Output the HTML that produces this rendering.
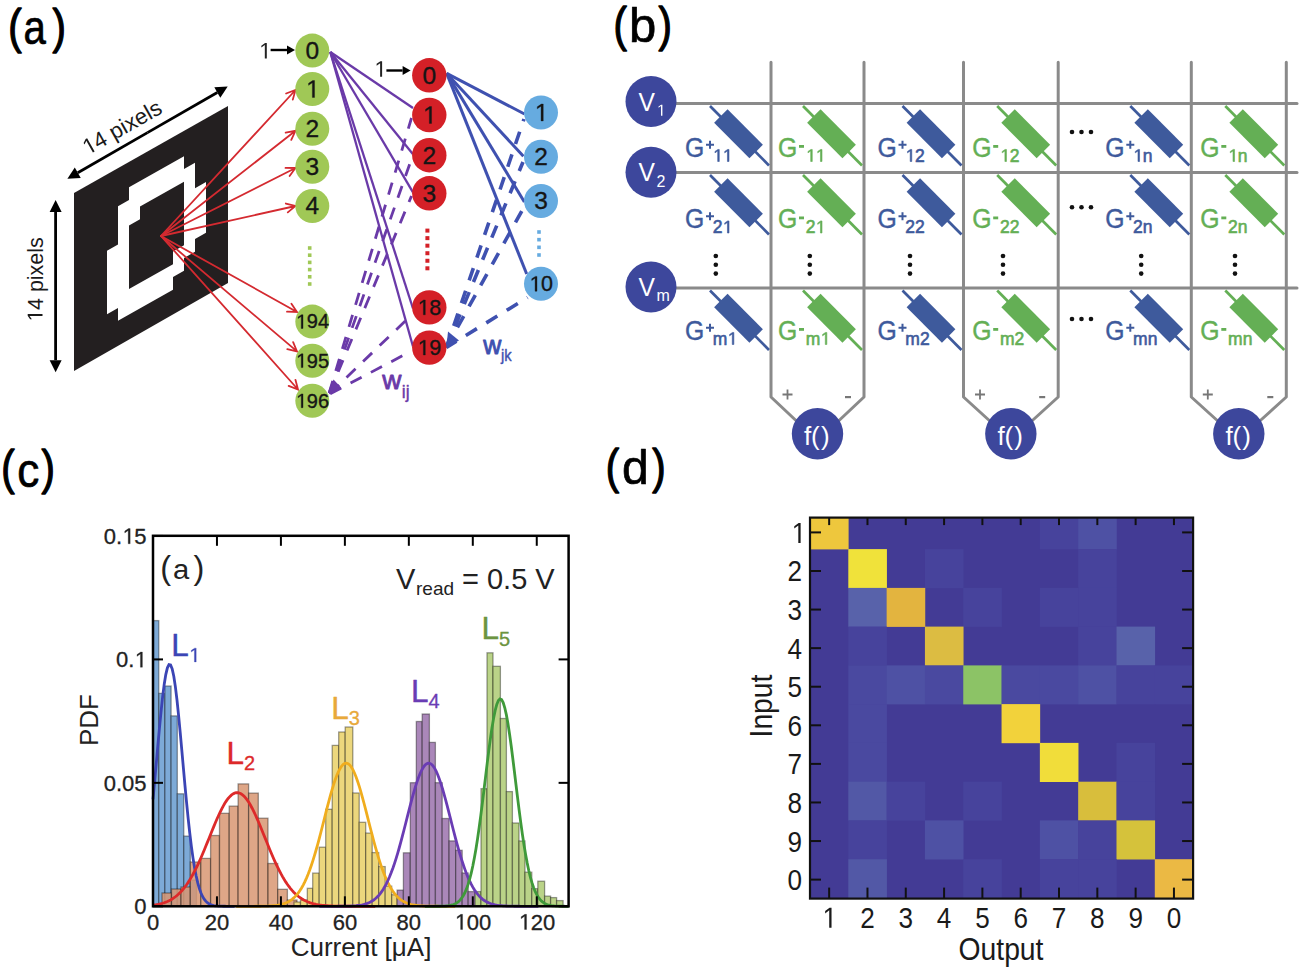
<!DOCTYPE html>
<html><head><meta charset="utf-8"><style>html,body{margin:0;padding:0;background:#fff;overflow:hidden;}svg{display:block;}</style></head>
<body><svg width="1300" height="971" viewBox="0 0 1300 971">
<rect width="1300" height="971" fill="#fff"/>
<g transform="translate(8.34,42.51) scale(0.82,1)"><text x="0.00" y="0" font-size="49" font-family="Liberation Sans, sans-serif" fill="#000" stroke="#000" stroke-width="1.3" stroke-linejoin="round" style="font-kerning:none;white-space:pre">(</text></g>
<g transform="translate(23.42,44.00) scale(0.82,1)"><text x="0.00" y="0" font-size="49" font-family="Liberation Sans, sans-serif" fill="#000" stroke="#000" stroke-width="0.7" stroke-linejoin="round" style="font-kerning:none;white-space:pre">a</text></g>
<g transform="translate(52.51,42.51) scale(0.82,1)"><text x="0.00" y="0" font-size="49" font-family="Liberation Sans, sans-serif" fill="#000" stroke="#000" stroke-width="1.3" stroke-linejoin="round" style="font-kerning:none;white-space:pre">)</text></g>
<g transform="translate(613.44,40.71) scale(0.82,1)"><text x="0.00" y="0" font-size="49" font-family="Liberation Sans, sans-serif" fill="#000" stroke="#000" stroke-width="1.3" stroke-linejoin="round" style="font-kerning:none;white-space:pre">(</text></g>
<g transform="translate(629.08,42.40)"><text x="0.00" y="0" font-size="49" font-family="Liberation Sans, sans-serif" fill="#000" stroke="#000" stroke-width="0.7" stroke-linejoin="round" style="font-kerning:none;white-space:pre">b</text></g>
<g transform="translate(658.51,40.71) scale(0.82,1)"><text x="0.00" y="0" font-size="49" font-family="Liberation Sans, sans-serif" fill="#000" stroke="#000" stroke-width="1.3" stroke-linejoin="round" style="font-kerning:none;white-space:pre">)</text></g>
<g transform="translate(1.34,484.41) scale(0.82,1)"><text x="0.00" y="0" font-size="49" font-family="Liberation Sans, sans-serif" fill="#000" stroke="#000" stroke-width="1.3" stroke-linejoin="round" style="font-kerning:none;white-space:pre">(</text></g>
<g transform="translate(17.27,486.50) scale(0.9,1)"><text x="0.00" y="0" font-size="49" font-family="Liberation Sans, sans-serif" fill="#000" stroke="#000" stroke-width="0.7" stroke-linejoin="round" style="font-kerning:none;white-space:pre">c</text></g>
<g transform="translate(41.41,484.41) scale(0.82,1)"><text x="0.00" y="0" font-size="49" font-family="Liberation Sans, sans-serif" fill="#000" stroke="#000" stroke-width="1.3" stroke-linejoin="round" style="font-kerning:none;white-space:pre">)</text></g>
<g transform="translate(605.64,483.01) scale(0.82,1)"><text x="0.00" y="0" font-size="49" font-family="Liberation Sans, sans-serif" fill="#000" stroke="#000" stroke-width="1.3" stroke-linejoin="round" style="font-kerning:none;white-space:pre">(</text></g>
<g transform="translate(621.92,484.30) scale(0.98,1)"><text x="0.00" y="0" font-size="49" font-family="Liberation Sans, sans-serif" fill="#000" stroke="#000" stroke-width="0.7" stroke-linejoin="round" style="font-kerning:none;white-space:pre">d</text></g>
<g transform="translate(652.21,483.01) scale(0.82,1)"><text x="0.00" y="0" font-size="49" font-family="Liberation Sans, sans-serif" fill="#000" stroke="#000" stroke-width="1.3" stroke-linejoin="round" style="font-kerning:none;white-space:pre">)</text></g>
<polygon points="74,193 228,106 228,283 74,371" fill="#231f20"/>
<path d="M107.00,250.64 L118.00,244.43 L118.00,206.29 L129.00,200.07 L129.00,187.36 L184.00,156.29 L184.00,169.00 L195.00,162.79 L195.00,188.22 L206.00,182.00 L206.00,232.86 L195.00,239.07 L195.00,251.79 L184.00,258.00 L184.00,270.71 L173.00,276.93 L173.00,289.64 L118.00,320.71 L118.00,308.00 L107.00,314.21Z M140.00,206.57 L184.00,181.72 L184.00,245.29 L173.00,251.50 L173.00,264.21 L129.00,289.07 L129.00,225.50 L140.00,219.29Z" fill="#fff" fill-rule="evenodd"/>
<line x1="147.5" y1="132.6" x2="217.30" y2="92.48" stroke="#000" stroke-width="2.8"/><polygon points="227.7,86.5 220.29,97.68 214.31,87.28" fill="#000"/>
<line x1="147.5" y1="132.6" x2="77.79" y2="172.80" stroke="#000" stroke-width="2.8"/><polygon points="67.4,178.8 74.80,167.61 80.79,178.00" fill="#000"/>
<line x1="55.6" y1="290" x2="55.60" y2="212.00" stroke="#000" stroke-width="2.8"/><polygon points="55.6,200 61.60,212.00 49.60,212.00" fill="#000"/>
<line x1="55.6" y1="290" x2="55.60" y2="360.20" stroke="#000" stroke-width="2.8"/><polygon points="55.6,372.2 49.60,360.20 61.60,360.20" fill="#000"/>
<g transform="translate(87.50,155.50) rotate(-29.5)"><path d="M575,0 L575,1237 L257,1010 L257,1180 L600,1409 L756,1409 L756,0 Z" transform="translate(0.00,0) scale(0.01084,-0.01084)" fill="#1a1a1a"/><text x="12.35" y="0" font-size="22.2" font-family="Liberation Sans, sans-serif" fill="#1a1a1a" style="font-kerning:none;white-space:pre">4 pixels</text></g>
<g transform="translate(42.50,322.00) rotate(-90)"><path d="M575,0 L575,1237 L257,1010 L257,1180 L600,1409 L756,1409 L756,0 Z" transform="translate(0.00,0) scale(0.01050,-0.01050)" fill="#1a1a1a"/><text x="11.96" y="0" font-size="21.5" font-family="Liberation Sans, sans-serif" fill="#1a1a1a" style="font-kerning:none;white-space:pre">4 pixels</text></g>
<path d="M161,236 L295.5,90 M286.12,93.48 L295.5,90 L292.80,99.63" fill="none" stroke="#d42a30" stroke-width="1.8" stroke-linecap="round" stroke-linejoin="miter"/>
<path d="M161,236 L295.5,130.8 M285.68,132.71 L295.5,130.8 L291.28,139.87" fill="none" stroke="#d42a30" stroke-width="1.8" stroke-linecap="round" stroke-linejoin="miter"/>
<path d="M161,236 L295.5,168 M285.50,167.97 L295.5,168 L289.60,176.07" fill="none" stroke="#d42a30" stroke-width="1.8" stroke-linecap="round" stroke-linejoin="miter"/>
<path d="M161,236 L295.5,206 M285.82,203.51 L295.5,206 L287.79,212.37" fill="none" stroke="#d42a30" stroke-width="1.8" stroke-linecap="round" stroke-linejoin="miter"/>
<path d="M161,236 L297,312 M291.44,303.69 L297,312 L287.01,311.62" fill="none" stroke="#d42a30" stroke-width="1.8" stroke-linecap="round" stroke-linejoin="miter"/>
<path d="M161,236 L297,351.4 M293.14,342.17 L297,351.4 L287.27,349.10" fill="none" stroke="#d42a30" stroke-width="1.8" stroke-linecap="round" stroke-linejoin="miter"/>
<path d="M161,236 L298,389.5 M295.45,379.83 L298,389.5 L288.68,385.88" fill="none" stroke="#d42a30" stroke-width="1.8" stroke-linecap="round" stroke-linejoin="miter"/>
<line x1="330.3" y1="52" x2="413" y2="108" stroke="#6a3aa8" stroke-width="2.3"/>
<line x1="330.3" y1="52" x2="413" y2="154.2" stroke="#6a3aa8" stroke-width="2.3"/>
<line x1="330.3" y1="52" x2="413" y2="192.3" stroke="#6a3aa8" stroke-width="2.3"/>
<line x1="330.3" y1="52" x2="413" y2="308.5" stroke="#6a3aa8" stroke-width="2.3"/>
<line x1="330.3" y1="52" x2="413" y2="346.5" stroke="#6a3aa8" stroke-width="2.3"/>
<line x1="328.7" y1="394.6" x2="411.5" y2="118" stroke="#6a3aa8" stroke-width="2.8" stroke-dasharray="12.5 10.5" stroke-dashoffset="-1.7"/>
<line x1="328.7" y1="394.6" x2="411.5" y2="159" stroke="#6a3aa8" stroke-width="2.8" stroke-dasharray="12.5 10.5" stroke-dashoffset="-1.7"/>
<line x1="328.7" y1="394.6" x2="411.5" y2="196" stroke="#6a3aa8" stroke-width="2.8" stroke-dasharray="12.5 10.5" stroke-dashoffset="-1.7"/>
<line x1="328.7" y1="394.6" x2="411.5" y2="315" stroke="#6a3aa8" stroke-width="2.8" stroke-dasharray="12.5 10.5" stroke-dashoffset="-1.7"/>
<line x1="328.7" y1="394.6" x2="411.5" y2="351" stroke="#6a3aa8" stroke-width="2.8" stroke-dasharray="12.5 10.5" stroke-dashoffset="-1.7"/>
<polygon points="328.7,394.6 333.5,379.5 341,387.5" fill="#6a3aa8"/>
<line x1="446.7" y1="73.4" x2="524.5" y2="114" stroke="#3f51b0" stroke-width="3"/>
<line x1="446.7" y1="73.4" x2="523.4" y2="156.3" stroke="#3f51b0" stroke-width="3"/>
<line x1="446.7" y1="73.4" x2="524.4" y2="202" stroke="#3f51b0" stroke-width="3"/>
<line x1="446.7" y1="73.4" x2="526.7" y2="274" stroke="#3f51b0" stroke-width="3"/>
<line x1="446.4" y1="347.4" x2="524" y2="119" stroke="#3f51b0" stroke-width="3.6" stroke-dasharray="13 11" stroke-dashoffset="1.2"/>
<line x1="446.4" y1="347.4" x2="523" y2="162" stroke="#3f51b0" stroke-width="3.6" stroke-dasharray="13 11" stroke-dashoffset="1.2"/>
<line x1="446.4" y1="347.4" x2="524" y2="207" stroke="#3f51b0" stroke-width="3.6" stroke-dasharray="13 11" stroke-dashoffset="1.2"/>
<line x1="446.4" y1="347.4" x2="527.6" y2="297.5" stroke="#3f51b0" stroke-width="3.6" stroke-dasharray="13 11" stroke-dashoffset="1.2"/>
<polygon points="446.4,347.4 448,331.5 459,340.5" fill="#3f51b0"/>
<line x1="270.6" y1="50" x2="287.00" y2="50.00" stroke="#000" stroke-width="2.4"/><polygon points="295,50 287.00,54.50 287.00,45.50" fill="#000"/>
<g transform="translate(258.50,58.60)"><path d="M575,0 L575,1237 L257,1010 L257,1180 L600,1409 L756,1409 L756,0 Z" transform="translate(0.00,0) scale(0.01099,-0.01099)" fill="#222"/></g>
<line x1="386.4" y1="70.5" x2="402.60" y2="70.50" stroke="#000" stroke-width="2.4"/><polygon points="410.6,70.5 402.60,75.00 402.60,66.00" fill="#000"/>
<g transform="translate(373.80,76.80)"><path d="M575,0 L575,1237 L257,1010 L257,1180 L600,1409 L756,1409 L756,0 Z" transform="translate(0.00,0) scale(0.01099,-0.01099)" fill="#222"/></g>
<circle cx="312.3" cy="50.6" r="17" fill="#a0c856"/><g transform="translate(312.30,59.03)"><text x="-6.81" y="0" font-size="24.5" font-family="Liberation Sans, sans-serif" fill="#151515" stroke="#151515" stroke-width="0.35" stroke-linejoin="round" style="font-kerning:none;white-space:pre">0</text></g>
<circle cx="312.3" cy="89" r="17" fill="#a0c856"/><g transform="translate(312.30,97.43)"><path d="M575,0 L575,1237 L257,1010 L257,1180 L600,1409 L756,1409 L756,0 Z" transform="translate(-6.81,0) scale(0.01196,-0.01196)" fill="#151515" stroke="#151515" stroke-width="29.3" stroke-linejoin="round"/></g>
<circle cx="312.3" cy="128.8" r="17" fill="#a0c856"/><g transform="translate(312.30,137.23)"><text x="-6.81" y="0" font-size="24.5" font-family="Liberation Sans, sans-serif" fill="#151515" stroke="#151515" stroke-width="0.35" stroke-linejoin="round" style="font-kerning:none;white-space:pre">2</text></g>
<circle cx="312.3" cy="166.8" r="17" fill="#a0c856"/><g transform="translate(312.30,175.23)"><text x="-6.81" y="0" font-size="24.5" font-family="Liberation Sans, sans-serif" fill="#151515" stroke="#151515" stroke-width="0.35" stroke-linejoin="round" style="font-kerning:none;white-space:pre">3</text></g>
<circle cx="312.3" cy="206" r="17" fill="#a0c856"/><g transform="translate(312.30,214.43)"><text x="-6.81" y="0" font-size="24.5" font-family="Liberation Sans, sans-serif" fill="#151515" stroke="#151515" stroke-width="0.35" stroke-linejoin="round" style="font-kerning:none;white-space:pre">4</text></g>
<circle cx="312.3" cy="321.6" r="17" fill="#a0c856"/><g transform="translate(312.30,328.48)"><path d="M575,0 L575,1237 L257,1010 L257,1180 L600,1409 L756,1409 L756,0 Z" transform="translate(-16.68,0) scale(0.00977,-0.00977)" fill="#151515" stroke="#151515" stroke-width="35.8" stroke-linejoin="round"/><text x="-5.56" y="0" font-size="20" font-family="Liberation Sans, sans-serif" fill="#151515" stroke="#151515" stroke-width="0.35" stroke-linejoin="round" style="font-kerning:none;white-space:pre">94</text></g>
<circle cx="312.3" cy="360.7" r="17" fill="#a0c856"/><g transform="translate(312.30,367.58)"><path d="M575,0 L575,1237 L257,1010 L257,1180 L600,1409 L756,1409 L756,0 Z" transform="translate(-16.68,0) scale(0.00977,-0.00977)" fill="#151515" stroke="#151515" stroke-width="35.8" stroke-linejoin="round"/><text x="-5.56" y="0" font-size="20" font-family="Liberation Sans, sans-serif" fill="#151515" stroke="#151515" stroke-width="0.35" stroke-linejoin="round" style="font-kerning:none;white-space:pre">95</text></g>
<circle cx="312.3" cy="400.8" r="17" fill="#a0c856"/><g transform="translate(312.30,407.68)"><path d="M575,0 L575,1237 L257,1010 L257,1180 L600,1409 L756,1409 L756,0 Z" transform="translate(-16.68,0) scale(0.00977,-0.00977)" fill="#151515" stroke="#151515" stroke-width="35.8" stroke-linejoin="round"/><text x="-5.56" y="0" font-size="20" font-family="Liberation Sans, sans-serif" fill="#151515" stroke="#151515" stroke-width="0.35" stroke-linejoin="round" style="font-kerning:none;white-space:pre">96</text></g>
<circle cx="429.3" cy="75.3" r="17.2" fill="#d42027"/><g transform="translate(429.30,83.73)"><text x="-6.81" y="0" font-size="24.5" font-family="Liberation Sans, sans-serif" fill="#151515" stroke="#151515" stroke-width="0.35" stroke-linejoin="round" style="font-kerning:none;white-space:pre">0</text></g>
<circle cx="429.3" cy="115" r="17.2" fill="#d42027"/><g transform="translate(429.30,123.43)"><path d="M575,0 L575,1237 L257,1010 L257,1180 L600,1409 L756,1409 L756,0 Z" transform="translate(-6.81,0) scale(0.01196,-0.01196)" fill="#151515" stroke="#151515" stroke-width="29.3" stroke-linejoin="round"/></g>
<circle cx="429.3" cy="155.2" r="17.2" fill="#d42027"/><g transform="translate(429.30,163.63)"><text x="-6.81" y="0" font-size="24.5" font-family="Liberation Sans, sans-serif" fill="#151515" stroke="#151515" stroke-width="0.35" stroke-linejoin="round" style="font-kerning:none;white-space:pre">2</text></g>
<circle cx="429.3" cy="193.3" r="17.2" fill="#d42027"/><g transform="translate(429.30,201.73)"><text x="-6.81" y="0" font-size="24.5" font-family="Liberation Sans, sans-serif" fill="#151515" stroke="#151515" stroke-width="0.35" stroke-linejoin="round" style="font-kerning:none;white-space:pre">3</text></g>
<circle cx="429.3" cy="307.4" r="17.2" fill="#d42027"/><g transform="translate(429.30,314.80)"><path d="M575,0 L575,1237 L257,1010 L257,1180 L600,1409 L756,1409 L756,0 Z" transform="translate(-11.96,0) scale(0.01050,-0.01050)" fill="#151515" stroke="#151515" stroke-width="33.3" stroke-linejoin="round"/><text x="0.00" y="0" font-size="21.5" font-family="Liberation Sans, sans-serif" fill="#151515" stroke="#151515" stroke-width="0.35" stroke-linejoin="round" style="font-kerning:none;white-space:pre">8</text></g>
<circle cx="429.3" cy="347.6" r="17.2" fill="#d42027"/><g transform="translate(429.30,355.00)"><path d="M575,0 L575,1237 L257,1010 L257,1180 L600,1409 L756,1409 L756,0 Z" transform="translate(-11.96,0) scale(0.01050,-0.01050)" fill="#151515" stroke="#151515" stroke-width="33.3" stroke-linejoin="round"/><text x="0.00" y="0" font-size="21.5" font-family="Liberation Sans, sans-serif" fill="#151515" stroke="#151515" stroke-width="0.35" stroke-linejoin="round" style="font-kerning:none;white-space:pre">9</text></g>
<circle cx="541" cy="112.5" r="17" fill="#66abe0"/><g transform="translate(541.00,120.93)"><path d="M575,0 L575,1237 L257,1010 L257,1180 L600,1409 L756,1409 L756,0 Z" transform="translate(-6.81,0) scale(0.01196,-0.01196)" fill="#151515" stroke="#151515" stroke-width="29.3" stroke-linejoin="round"/></g>
<circle cx="541" cy="156.8" r="17" fill="#66abe0"/><g transform="translate(541.00,165.23)"><text x="-6.81" y="0" font-size="24.5" font-family="Liberation Sans, sans-serif" fill="#151515" stroke="#151515" stroke-width="0.35" stroke-linejoin="round" style="font-kerning:none;white-space:pre">2</text></g>
<circle cx="541" cy="201" r="17" fill="#66abe0"/><g transform="translate(541.00,209.43)"><text x="-6.81" y="0" font-size="24.5" font-family="Liberation Sans, sans-serif" fill="#151515" stroke="#151515" stroke-width="0.35" stroke-linejoin="round" style="font-kerning:none;white-space:pre">3</text></g>
<circle cx="541" cy="283.8" r="17" fill="#66abe0"/><g transform="translate(541.00,291.20)"><path d="M575,0 L575,1237 L257,1010 L257,1180 L600,1409 L756,1409 L756,0 Z" transform="translate(-11.96,0) scale(0.01050,-0.01050)" fill="#151515" stroke="#151515" stroke-width="33.3" stroke-linejoin="round"/><text x="0.00" y="0" font-size="21.5" font-family="Liberation Sans, sans-serif" fill="#151515" stroke="#151515" stroke-width="0.35" stroke-linejoin="round" style="font-kerning:none;white-space:pre">0</text></g>
<rect x="307.9" y="246.2" width="3.6" height="3.6" fill="#a0c856"/><rect x="307.9" y="253.39999999999998" width="3.6" height="3.6" fill="#a0c856"/><rect x="307.9" y="260.59999999999997" width="3.6" height="3.6" fill="#a0c856"/><rect x="307.9" y="267.8" width="3.6" height="3.6" fill="#a0c856"/><rect x="307.9" y="275.0" width="3.6" height="3.6" fill="#a0c856"/><rect x="307.9" y="282.2" width="3.6" height="3.6" fill="#a0c856"/>
<rect x="425.4" y="228.6" width="4" height="4" fill="#d42027"/><rect x="425.4" y="236.14" width="4" height="4" fill="#d42027"/><rect x="425.4" y="243.68" width="4" height="4" fill="#d42027"/><rect x="425.4" y="251.22" width="4" height="4" fill="#d42027"/><rect x="425.4" y="258.76" width="4" height="4" fill="#d42027"/><rect x="425.4" y="266.3" width="4" height="4" fill="#d42027"/>
<rect x="537.2" y="230.2" width="3.6" height="3.6" fill="#66abe0"/><rect x="537.2" y="237.86666666666665" width="3.6" height="3.6" fill="#66abe0"/><rect x="537.2" y="245.53333333333333" width="3.6" height="3.6" fill="#66abe0"/><rect x="537.2" y="253.2" width="3.6" height="3.6" fill="#66abe0"/>
<g transform="translate(382.30,388.50)"><text x="0.00" y="0" font-size="26.5" font-family="Liberation Sans, sans-serif" fill="#6a3aa8" stroke="#6a3aa8" stroke-width="0.9" stroke-linejoin="round" style="font-kerning:none;white-space:pre">w</text></g>
<g transform="translate(401.80,397.50)"><text x="0.00" y="0" font-size="17.5" font-family="Liberation Sans, sans-serif" fill="#6a3aa8" stroke="#6a3aa8" stroke-width="0.4" stroke-linejoin="round" style="font-kerning:none;white-space:pre">ij</text></g>
<g transform="translate(483.30,353.60)"><text x="0.00" y="0" font-size="25" font-family="Liberation Sans, sans-serif" fill="#3f51b0" stroke="#3f51b0" stroke-width="0.9" stroke-linejoin="round" style="font-kerning:none;white-space:pre">w</text></g>
<g transform="translate(501.00,360.50) scale(0.92,1)"><text x="0.00" y="0" font-size="16" font-family="Liberation Sans, sans-serif" fill="#3f51b0" stroke="#3f51b0" stroke-width="0.4" stroke-linejoin="round" style="font-kerning:none;white-space:pre">jk</text></g>
<g stroke="#8a8a8a" stroke-width="3" fill="none" stroke-linecap="round" stroke-linejoin="round">
<line x1="676" y1="103.5" x2="1297" y2="103.5"/>
<line x1="676" y1="172.5" x2="1297" y2="172.5"/>
<line x1="676" y1="288" x2="1297" y2="288"/>
<path d="M771,62.3 L771,397 L796.5,421 M864,62.3 L864,397 L838.5,421"/>
<path d="M963.5,62.3 L963.5,397 L989.85,421 M1058.2,62.3 L1058.2,397 L1031.85,421"/>
<path d="M1191.3,62.3 L1191.3,397 L1217.8,421 M1286.3,62.3 L1286.3,397 L1259.8,421"/>
</g>
<circle cx="651" cy="101.5" r="25.5" fill="#3d479c"/>
<g transform="translate(638.50,110.50) scale(0.93,1)"><text x="0.00" y="0" font-size="26.5" font-family="Liberation Sans, sans-serif" fill="#fff" style="font-kerning:none;white-space:pre">V</text></g>
<g transform="translate(656.50,115.70)"><path d="M575,0 L575,1237 L257,1010 L257,1180 L600,1409 L756,1409 L756,0 Z" transform="translate(0.00,0) scale(0.00781,-0.00781)" fill="#fff"/></g>
<circle cx="651" cy="172.3" r="25.5" fill="#3d479c"/>
<g transform="translate(638.50,181.30) scale(0.93,1)"><text x="0.00" y="0" font-size="26.5" font-family="Liberation Sans, sans-serif" fill="#fff" style="font-kerning:none;white-space:pre">V</text></g>
<g transform="translate(656.50,186.50)"><text x="0.00" y="0" font-size="16" font-family="Liberation Sans, sans-serif" fill="#fff" style="font-kerning:none;white-space:pre">2</text></g>
<circle cx="651" cy="287" r="25.5" fill="#3d479c"/>
<g transform="translate(638.50,296.00) scale(0.93,1)"><text x="0.00" y="0" font-size="26.5" font-family="Liberation Sans, sans-serif" fill="#fff" style="font-kerning:none;white-space:pre">V</text></g>
<g transform="translate(656.50,301.20)"><text x="0.00" y="0" font-size="16" font-family="Liberation Sans, sans-serif" fill="#fff" style="font-kerning:none;white-space:pre">m</text></g>
<circle cx="817.5" cy="433.8" r="25.7" fill="#3d479c"/>
<g transform="translate(804.10,445.30)"><text x="0.00" y="0" font-size="26" font-family="Liberation Sans, sans-serif" fill="#fff" style="font-kerning:none;white-space:pre">f</text></g>
<g transform="translate(811.10,445.30)"><text x="0.00" y="0" font-size="26" font-family="Liberation Sans, sans-serif" fill="#fff" style="font-kerning:none;white-space:pre">(</text></g>
<g transform="translate(820.90,445.30)"><text x="0.00" y="0" font-size="26" font-family="Liberation Sans, sans-serif" fill="#fff" style="font-kerning:none;white-space:pre">)</text></g>
<path d="M782.5,394.5 h10 M787.5,389.5 v10" stroke="#777" stroke-width="1.8"/>
<rect x="845" y="396" width="6" height="2.2" fill="#777"/>
<circle cx="1010.85" cy="433.8" r="25.7" fill="#3d479c"/>
<g transform="translate(997.45,445.30)"><text x="0.00" y="0" font-size="26" font-family="Liberation Sans, sans-serif" fill="#fff" style="font-kerning:none;white-space:pre">f</text></g>
<g transform="translate(1004.45,445.30)"><text x="0.00" y="0" font-size="26" font-family="Liberation Sans, sans-serif" fill="#fff" style="font-kerning:none;white-space:pre">(</text></g>
<g transform="translate(1014.25,445.30)"><text x="0.00" y="0" font-size="26" font-family="Liberation Sans, sans-serif" fill="#fff" style="font-kerning:none;white-space:pre">)</text></g>
<path d="M975.0,394.5 h10 M980.0,389.5 v10" stroke="#777" stroke-width="1.8"/>
<rect x="1039.2" y="396" width="6" height="2.2" fill="#777"/>
<circle cx="1238.8" cy="433.8" r="25.7" fill="#3d479c"/>
<g transform="translate(1225.40,445.30)"><text x="0.00" y="0" font-size="26" font-family="Liberation Sans, sans-serif" fill="#fff" style="font-kerning:none;white-space:pre">f</text></g>
<g transform="translate(1232.40,445.30)"><text x="0.00" y="0" font-size="26" font-family="Liberation Sans, sans-serif" fill="#fff" style="font-kerning:none;white-space:pre">(</text></g>
<g transform="translate(1242.20,445.30)"><text x="0.00" y="0" font-size="26" font-family="Liberation Sans, sans-serif" fill="#fff" style="font-kerning:none;white-space:pre">)</text></g>
<path d="M1202.8,394.5 h10 M1207.8,389.5 v10" stroke="#777" stroke-width="1.8"/>
<rect x="1267.3" y="396" width="6" height="2.2" fill="#777"/>
<line x1="710" y1="106.0" x2="769" y2="165.5" stroke="#3e5a9c" stroke-width="2.7"/><rect x="713.5" y="124.25" width="50" height="19" fill="#3e5a9c" transform="rotate(45 738.5 133.75)"/>
<g transform="translate(685.00,156.70) scale(0.9,1)"><text x="0.00" y="0" font-size="27.5" font-family="Liberation Sans, sans-serif" fill="#3e5a9c" stroke="#3e5a9c" stroke-width="0.4" stroke-linejoin="round" style="font-kerning:none;white-space:pre">G</text></g>
<path d="M706.0,144.7 h8 M710.0,140.7 v8" stroke="#3e5a9c" stroke-width="2"/>
<g transform="translate(712.80,161.50)"><path d="M575,0 L575,1237 L257,1010 L257,1180 L600,1409 L756,1409 L756,0 Z" transform="translate(0.00,0) scale(0.00854,-0.00854)" fill="#3e5a9c" stroke="#3e5a9c" stroke-width="70.2" stroke-linejoin="round"/><path d="M575,0 L575,1237 L257,1010 L257,1180 L600,1409 L756,1409 L756,0 Z" transform="translate(9.73,0) scale(0.00854,-0.00854)" fill="#3e5a9c" stroke="#3e5a9c" stroke-width="70.2" stroke-linejoin="round"/></g>
<line x1="803" y1="106.0" x2="862" y2="165.5" stroke="#64af55" stroke-width="2.7"/><rect x="806.5" y="124.25" width="50" height="19" fill="#64af55" transform="rotate(45 831.5 133.75)"/>
<g transform="translate(778.00,156.70) scale(0.9,1)"><text x="0.00" y="0" font-size="27.5" font-family="Liberation Sans, sans-serif" fill="#64af55" stroke="#64af55" stroke-width="0.4" stroke-linejoin="round" style="font-kerning:none;white-space:pre">G</text></g>
<rect x="799.0" y="145.0" width="5" height="2.8" fill="#64af55"/>
<g transform="translate(805.80,161.50)"><path d="M575,0 L575,1237 L257,1010 L257,1180 L600,1409 L756,1409 L756,0 Z" transform="translate(0.00,0) scale(0.00854,-0.00854)" fill="#64af55" stroke="#64af55" stroke-width="70.2" stroke-linejoin="round"/><path d="M575,0 L575,1237 L257,1010 L257,1180 L600,1409 L756,1409 L756,0 Z" transform="translate(9.73,0) scale(0.00854,-0.00854)" fill="#64af55" stroke="#64af55" stroke-width="70.2" stroke-linejoin="round"/></g>
<line x1="902.5" y1="106.0" x2="961.5" y2="165.5" stroke="#3e5a9c" stroke-width="2.7"/><rect x="906.0" y="124.25" width="50" height="19" fill="#3e5a9c" transform="rotate(45 931.0 133.75)"/>
<g transform="translate(877.50,156.70) scale(0.9,1)"><text x="0.00" y="0" font-size="27.5" font-family="Liberation Sans, sans-serif" fill="#3e5a9c" stroke="#3e5a9c" stroke-width="0.4" stroke-linejoin="round" style="font-kerning:none;white-space:pre">G</text></g>
<path d="M898.5,144.7 h8 M902.5,140.7 v8" stroke="#3e5a9c" stroke-width="2"/>
<g transform="translate(905.30,161.50)"><path d="M575,0 L575,1237 L257,1010 L257,1180 L600,1409 L756,1409 L756,0 Z" transform="translate(0.00,0) scale(0.00854,-0.00854)" fill="#3e5a9c" stroke="#3e5a9c" stroke-width="70.2" stroke-linejoin="round"/><text x="9.73" y="0" font-size="17.5" font-family="Liberation Sans, sans-serif" fill="#3e5a9c" stroke="#3e5a9c" stroke-width="0.6" stroke-linejoin="round" style="font-kerning:none;white-space:pre">2</text></g>
<line x1="997.2" y1="106.0" x2="1056.2" y2="165.5" stroke="#64af55" stroke-width="2.7"/><rect x="1000.7" y="124.25" width="50" height="19" fill="#64af55" transform="rotate(45 1025.7 133.75)"/>
<g transform="translate(972.20,156.70) scale(0.9,1)"><text x="0.00" y="0" font-size="27.5" font-family="Liberation Sans, sans-serif" fill="#64af55" stroke="#64af55" stroke-width="0.4" stroke-linejoin="round" style="font-kerning:none;white-space:pre">G</text></g>
<rect x="993.2" y="145.0" width="5" height="2.8" fill="#64af55"/>
<g transform="translate(1000.00,161.50)"><path d="M575,0 L575,1237 L257,1010 L257,1180 L600,1409 L756,1409 L756,0 Z" transform="translate(0.00,0) scale(0.00854,-0.00854)" fill="#64af55" stroke="#64af55" stroke-width="70.2" stroke-linejoin="round"/><text x="9.73" y="0" font-size="17.5" font-family="Liberation Sans, sans-serif" fill="#64af55" stroke="#64af55" stroke-width="0.6" stroke-linejoin="round" style="font-kerning:none;white-space:pre">2</text></g>
<line x1="1130.3" y1="106.0" x2="1189.3" y2="165.5" stroke="#3e5a9c" stroke-width="2.7"/><rect x="1133.8" y="124.25" width="50" height="19" fill="#3e5a9c" transform="rotate(45 1158.8 133.75)"/>
<g transform="translate(1105.30,156.70) scale(0.9,1)"><text x="0.00" y="0" font-size="27.5" font-family="Liberation Sans, sans-serif" fill="#3e5a9c" stroke="#3e5a9c" stroke-width="0.4" stroke-linejoin="round" style="font-kerning:none;white-space:pre">G</text></g>
<path d="M1126.3,144.7 h8 M1130.3,140.7 v8" stroke="#3e5a9c" stroke-width="2"/>
<g transform="translate(1133.10,161.50)"><path d="M575,0 L575,1237 L257,1010 L257,1180 L600,1409 L756,1409 L756,0 Z" transform="translate(0.00,0) scale(0.00854,-0.00854)" fill="#3e5a9c" stroke="#3e5a9c" stroke-width="70.2" stroke-linejoin="round"/><text x="9.73" y="0" font-size="17.5" font-family="Liberation Sans, sans-serif" fill="#3e5a9c" stroke="#3e5a9c" stroke-width="0.6" stroke-linejoin="round" style="font-kerning:none;white-space:pre">n</text></g>
<line x1="1225.3" y1="106.0" x2="1284.3" y2="165.5" stroke="#64af55" stroke-width="2.7"/><rect x="1228.8" y="124.25" width="50" height="19" fill="#64af55" transform="rotate(45 1253.8 133.75)"/>
<g transform="translate(1200.30,156.70) scale(0.9,1)"><text x="0.00" y="0" font-size="27.5" font-family="Liberation Sans, sans-serif" fill="#64af55" stroke="#64af55" stroke-width="0.4" stroke-linejoin="round" style="font-kerning:none;white-space:pre">G</text></g>
<rect x="1221.3" y="145.0" width="5" height="2.8" fill="#64af55"/>
<g transform="translate(1228.10,161.50)"><path d="M575,0 L575,1237 L257,1010 L257,1180 L600,1409 L756,1409 L756,0 Z" transform="translate(0.00,0) scale(0.00854,-0.00854)" fill="#64af55" stroke="#64af55" stroke-width="70.2" stroke-linejoin="round"/><text x="9.73" y="0" font-size="17.5" font-family="Liberation Sans, sans-serif" fill="#64af55" stroke="#64af55" stroke-width="0.6" stroke-linejoin="round" style="font-kerning:none;white-space:pre">n</text></g>
<line x1="710" y1="175.0" x2="769" y2="234.5" stroke="#3e5a9c" stroke-width="2.7"/><rect x="713.5" y="193.25" width="50" height="19" fill="#3e5a9c" transform="rotate(45 738.5 202.75)"/>
<g transform="translate(685.00,228.20) scale(0.9,1)"><text x="0.00" y="0" font-size="27.5" font-family="Liberation Sans, sans-serif" fill="#3e5a9c" stroke="#3e5a9c" stroke-width="0.4" stroke-linejoin="round" style="font-kerning:none;white-space:pre">G</text></g>
<path d="M706.0,216.2 h8 M710.0,212.2 v8" stroke="#3e5a9c" stroke-width="2"/>
<g transform="translate(712.80,233.00)"><text x="0.00" y="0" font-size="17.5" font-family="Liberation Sans, sans-serif" fill="#3e5a9c" stroke="#3e5a9c" stroke-width="0.6" stroke-linejoin="round" style="font-kerning:none;white-space:pre">2</text><path d="M575,0 L575,1237 L257,1010 L257,1180 L600,1409 L756,1409 L756,0 Z" transform="translate(9.73,0) scale(0.00854,-0.00854)" fill="#3e5a9c" stroke="#3e5a9c" stroke-width="70.2" stroke-linejoin="round"/></g>
<line x1="803" y1="175.0" x2="862" y2="234.5" stroke="#64af55" stroke-width="2.7"/><rect x="806.5" y="193.25" width="50" height="19" fill="#64af55" transform="rotate(45 831.5 202.75)"/>
<g transform="translate(778.00,228.20) scale(0.9,1)"><text x="0.00" y="0" font-size="27.5" font-family="Liberation Sans, sans-serif" fill="#64af55" stroke="#64af55" stroke-width="0.4" stroke-linejoin="round" style="font-kerning:none;white-space:pre">G</text></g>
<rect x="799.0" y="216.5" width="5" height="2.8" fill="#64af55"/>
<g transform="translate(805.80,233.00)"><text x="0.00" y="0" font-size="17.5" font-family="Liberation Sans, sans-serif" fill="#64af55" stroke="#64af55" stroke-width="0.6" stroke-linejoin="round" style="font-kerning:none;white-space:pre">2</text><path d="M575,0 L575,1237 L257,1010 L257,1180 L600,1409 L756,1409 L756,0 Z" transform="translate(9.73,0) scale(0.00854,-0.00854)" fill="#64af55" stroke="#64af55" stroke-width="70.2" stroke-linejoin="round"/></g>
<line x1="902.5" y1="175.0" x2="961.5" y2="234.5" stroke="#3e5a9c" stroke-width="2.7"/><rect x="906.0" y="193.25" width="50" height="19" fill="#3e5a9c" transform="rotate(45 931.0 202.75)"/>
<g transform="translate(877.50,228.20) scale(0.9,1)"><text x="0.00" y="0" font-size="27.5" font-family="Liberation Sans, sans-serif" fill="#3e5a9c" stroke="#3e5a9c" stroke-width="0.4" stroke-linejoin="round" style="font-kerning:none;white-space:pre">G</text></g>
<path d="M898.5,216.2 h8 M902.5,212.2 v8" stroke="#3e5a9c" stroke-width="2"/>
<g transform="translate(905.30,233.00)"><text x="0.00" y="0" font-size="17.5" font-family="Liberation Sans, sans-serif" fill="#3e5a9c" stroke="#3e5a9c" stroke-width="0.6" stroke-linejoin="round" style="font-kerning:none;white-space:pre">22</text></g>
<line x1="997.2" y1="175.0" x2="1056.2" y2="234.5" stroke="#64af55" stroke-width="2.7"/><rect x="1000.7" y="193.25" width="50" height="19" fill="#64af55" transform="rotate(45 1025.7 202.75)"/>
<g transform="translate(972.20,228.20) scale(0.9,1)"><text x="0.00" y="0" font-size="27.5" font-family="Liberation Sans, sans-serif" fill="#64af55" stroke="#64af55" stroke-width="0.4" stroke-linejoin="round" style="font-kerning:none;white-space:pre">G</text></g>
<rect x="993.2" y="216.5" width="5" height="2.8" fill="#64af55"/>
<g transform="translate(1000.00,233.00)"><text x="0.00" y="0" font-size="17.5" font-family="Liberation Sans, sans-serif" fill="#64af55" stroke="#64af55" stroke-width="0.6" stroke-linejoin="round" style="font-kerning:none;white-space:pre">22</text></g>
<line x1="1130.3" y1="175.0" x2="1189.3" y2="234.5" stroke="#3e5a9c" stroke-width="2.7"/><rect x="1133.8" y="193.25" width="50" height="19" fill="#3e5a9c" transform="rotate(45 1158.8 202.75)"/>
<g transform="translate(1105.30,228.20) scale(0.9,1)"><text x="0.00" y="0" font-size="27.5" font-family="Liberation Sans, sans-serif" fill="#3e5a9c" stroke="#3e5a9c" stroke-width="0.4" stroke-linejoin="round" style="font-kerning:none;white-space:pre">G</text></g>
<path d="M1126.3,216.2 h8 M1130.3,212.2 v8" stroke="#3e5a9c" stroke-width="2"/>
<g transform="translate(1133.10,233.00)"><text x="0.00" y="0" font-size="17.5" font-family="Liberation Sans, sans-serif" fill="#3e5a9c" stroke="#3e5a9c" stroke-width="0.6" stroke-linejoin="round" style="font-kerning:none;white-space:pre">2n</text></g>
<line x1="1225.3" y1="175.0" x2="1284.3" y2="234.5" stroke="#64af55" stroke-width="2.7"/><rect x="1228.8" y="193.25" width="50" height="19" fill="#64af55" transform="rotate(45 1253.8 202.75)"/>
<g transform="translate(1200.30,228.20) scale(0.9,1)"><text x="0.00" y="0" font-size="27.5" font-family="Liberation Sans, sans-serif" fill="#64af55" stroke="#64af55" stroke-width="0.4" stroke-linejoin="round" style="font-kerning:none;white-space:pre">G</text></g>
<rect x="1221.3" y="216.5" width="5" height="2.8" fill="#64af55"/>
<g transform="translate(1228.10,233.00)"><text x="0.00" y="0" font-size="17.5" font-family="Liberation Sans, sans-serif" fill="#64af55" stroke="#64af55" stroke-width="0.6" stroke-linejoin="round" style="font-kerning:none;white-space:pre">2n</text></g>
<line x1="710" y1="290.5" x2="769" y2="350" stroke="#3e5a9c" stroke-width="2.7"/><rect x="713.5" y="308.75" width="50" height="19" fill="#3e5a9c" transform="rotate(45 738.5 318.25)"/>
<g transform="translate(685.00,339.70) scale(0.9,1)"><text x="0.00" y="0" font-size="27.5" font-family="Liberation Sans, sans-serif" fill="#3e5a9c" stroke="#3e5a9c" stroke-width="0.4" stroke-linejoin="round" style="font-kerning:none;white-space:pre">G</text></g>
<path d="M706.0,327.7 h8 M710.0,323.7 v8" stroke="#3e5a9c" stroke-width="2"/>
<g transform="translate(712.80,344.50)"><text x="0.00" y="0" font-size="17.5" font-family="Liberation Sans, sans-serif" fill="#3e5a9c" stroke="#3e5a9c" stroke-width="0.6" stroke-linejoin="round" style="font-kerning:none;white-space:pre">m</text><path d="M575,0 L575,1237 L257,1010 L257,1180 L600,1409 L756,1409 L756,0 Z" transform="translate(14.58,0) scale(0.00854,-0.00854)" fill="#3e5a9c" stroke="#3e5a9c" stroke-width="70.2" stroke-linejoin="round"/></g>
<line x1="803" y1="290.5" x2="862" y2="350" stroke="#64af55" stroke-width="2.7"/><rect x="806.5" y="308.75" width="50" height="19" fill="#64af55" transform="rotate(45 831.5 318.25)"/>
<g transform="translate(778.00,339.70) scale(0.9,1)"><text x="0.00" y="0" font-size="27.5" font-family="Liberation Sans, sans-serif" fill="#64af55" stroke="#64af55" stroke-width="0.4" stroke-linejoin="round" style="font-kerning:none;white-space:pre">G</text></g>
<rect x="799.0" y="328.0" width="5" height="2.8" fill="#64af55"/>
<g transform="translate(805.80,344.50)"><text x="0.00" y="0" font-size="17.5" font-family="Liberation Sans, sans-serif" fill="#64af55" stroke="#64af55" stroke-width="0.6" stroke-linejoin="round" style="font-kerning:none;white-space:pre">m</text><path d="M575,0 L575,1237 L257,1010 L257,1180 L600,1409 L756,1409 L756,0 Z" transform="translate(14.58,0) scale(0.00854,-0.00854)" fill="#64af55" stroke="#64af55" stroke-width="70.2" stroke-linejoin="round"/></g>
<line x1="902.5" y1="290.5" x2="961.5" y2="350" stroke="#3e5a9c" stroke-width="2.7"/><rect x="906.0" y="308.75" width="50" height="19" fill="#3e5a9c" transform="rotate(45 931.0 318.25)"/>
<g transform="translate(877.50,339.70) scale(0.9,1)"><text x="0.00" y="0" font-size="27.5" font-family="Liberation Sans, sans-serif" fill="#3e5a9c" stroke="#3e5a9c" stroke-width="0.4" stroke-linejoin="round" style="font-kerning:none;white-space:pre">G</text></g>
<path d="M898.5,327.7 h8 M902.5,323.7 v8" stroke="#3e5a9c" stroke-width="2"/>
<g transform="translate(905.30,344.50)"><text x="0.00" y="0" font-size="17.5" font-family="Liberation Sans, sans-serif" fill="#3e5a9c" stroke="#3e5a9c" stroke-width="0.6" stroke-linejoin="round" style="font-kerning:none;white-space:pre">m2</text></g>
<line x1="997.2" y1="290.5" x2="1056.2" y2="350" stroke="#64af55" stroke-width="2.7"/><rect x="1000.7" y="308.75" width="50" height="19" fill="#64af55" transform="rotate(45 1025.7 318.25)"/>
<g transform="translate(972.20,339.70) scale(0.9,1)"><text x="0.00" y="0" font-size="27.5" font-family="Liberation Sans, sans-serif" fill="#64af55" stroke="#64af55" stroke-width="0.4" stroke-linejoin="round" style="font-kerning:none;white-space:pre">G</text></g>
<rect x="993.2" y="328.0" width="5" height="2.8" fill="#64af55"/>
<g transform="translate(1000.00,344.50)"><text x="0.00" y="0" font-size="17.5" font-family="Liberation Sans, sans-serif" fill="#64af55" stroke="#64af55" stroke-width="0.6" stroke-linejoin="round" style="font-kerning:none;white-space:pre">m2</text></g>
<line x1="1130.3" y1="290.5" x2="1189.3" y2="350" stroke="#3e5a9c" stroke-width="2.7"/><rect x="1133.8" y="308.75" width="50" height="19" fill="#3e5a9c" transform="rotate(45 1158.8 318.25)"/>
<g transform="translate(1105.30,339.70) scale(0.9,1)"><text x="0.00" y="0" font-size="27.5" font-family="Liberation Sans, sans-serif" fill="#3e5a9c" stroke="#3e5a9c" stroke-width="0.4" stroke-linejoin="round" style="font-kerning:none;white-space:pre">G</text></g>
<path d="M1126.3,327.7 h8 M1130.3,323.7 v8" stroke="#3e5a9c" stroke-width="2"/>
<g transform="translate(1133.10,344.50)"><text x="0.00" y="0" font-size="17.5" font-family="Liberation Sans, sans-serif" fill="#3e5a9c" stroke="#3e5a9c" stroke-width="0.6" stroke-linejoin="round" style="font-kerning:none;white-space:pre">mn</text></g>
<line x1="1225.3" y1="290.5" x2="1284.3" y2="350" stroke="#64af55" stroke-width="2.7"/><rect x="1228.8" y="308.75" width="50" height="19" fill="#64af55" transform="rotate(45 1253.8 318.25)"/>
<g transform="translate(1200.30,339.70) scale(0.9,1)"><text x="0.00" y="0" font-size="27.5" font-family="Liberation Sans, sans-serif" fill="#64af55" stroke="#64af55" stroke-width="0.4" stroke-linejoin="round" style="font-kerning:none;white-space:pre">G</text></g>
<rect x="1221.3" y="328.0" width="5" height="2.8" fill="#64af55"/>
<g transform="translate(1228.10,344.50)"><text x="0.00" y="0" font-size="17.5" font-family="Liberation Sans, sans-serif" fill="#64af55" stroke="#64af55" stroke-width="0.6" stroke-linejoin="round" style="font-kerning:none;white-space:pre">mn</text></g>
<circle cx="1072.0" cy="132" r="2.3" fill="#111"/>
<circle cx="1081.5" cy="132" r="2.3" fill="#111"/>
<circle cx="1091.0" cy="132" r="2.3" fill="#111"/>
<circle cx="1072.0" cy="207.3" r="2.3" fill="#111"/>
<circle cx="1081.5" cy="207.3" r="2.3" fill="#111"/>
<circle cx="1091.0" cy="207.3" r="2.3" fill="#111"/>
<circle cx="1072.0" cy="319" r="2.3" fill="#111"/>
<circle cx="1081.5" cy="319" r="2.3" fill="#111"/>
<circle cx="1091.0" cy="319" r="2.3" fill="#111"/>
<circle cx="715.8" cy="256.0" r="2.3" fill="#111"/>
<circle cx="715.8" cy="264.8" r="2.3" fill="#111"/>
<circle cx="715.8" cy="273.6" r="2.3" fill="#111"/>
<circle cx="809.8" cy="256.0" r="2.3" fill="#111"/>
<circle cx="809.8" cy="264.8" r="2.3" fill="#111"/>
<circle cx="809.8" cy="273.6" r="2.3" fill="#111"/>
<circle cx="910" cy="256.0" r="2.3" fill="#111"/>
<circle cx="910" cy="264.8" r="2.3" fill="#111"/>
<circle cx="910" cy="273.6" r="2.3" fill="#111"/>
<circle cx="1003" cy="256.0" r="2.3" fill="#111"/>
<circle cx="1003" cy="264.8" r="2.3" fill="#111"/>
<circle cx="1003" cy="273.6" r="2.3" fill="#111"/>
<circle cx="1141.2" cy="256.0" r="2.3" fill="#111"/>
<circle cx="1141.2" cy="264.8" r="2.3" fill="#111"/>
<circle cx="1141.2" cy="273.6" r="2.3" fill="#111"/>
<circle cx="1235" cy="256.0" r="2.3" fill="#111"/>
<circle cx="1235" cy="264.8" r="2.3" fill="#111"/>
<circle cx="1235" cy="273.6" r="2.3" fill="#111"/>
<rect x="152.9" y="620.6" width="5.90" height="285.70" fill="#7daad7" fill-opacity="1.0" stroke="#000" stroke-opacity="0.38" stroke-width="1.3"/><rect x="158.8" y="693.4" width="6.10" height="212.90" fill="#7daad7" fill-opacity="1.0" stroke="#000" stroke-opacity="0.38" stroke-width="1.3"/><rect x="164.9" y="686" width="6.20" height="220.30" fill="#7daad7" fill-opacity="1.0" stroke="#000" stroke-opacity="0.38" stroke-width="1.3"/><rect x="171.1" y="715.9" width="6.20" height="190.40" fill="#7daad7" fill-opacity="1.0" stroke="#000" stroke-opacity="0.38" stroke-width="1.3"/><rect x="177.3" y="793.8" width="6.50" height="112.50" fill="#7daad7" fill-opacity="1.0" stroke="#000" stroke-opacity="0.38" stroke-width="1.3"/><rect x="183.8" y="836.1" width="6.50" height="70.20" fill="#7daad7" fill-opacity="1.0" stroke="#000" stroke-opacity="0.38" stroke-width="1.3"/><rect x="190.3" y="880" width="6.20" height="26.30" fill="#7daad7" fill-opacity="1.0" stroke="#000" stroke-opacity="0.38" stroke-width="1.3"/>
<rect x="162" y="893" width="9.50" height="13.30" fill="#d89672" fill-opacity="0.85" stroke="#000" stroke-opacity="0.38" stroke-width="1.3"/><rect x="171.5" y="889" width="9.50" height="17.30" fill="#d89672" fill-opacity="0.85" stroke="#000" stroke-opacity="0.38" stroke-width="1.3"/><rect x="181" y="887" width="9.30" height="19.30" fill="#d89672" fill-opacity="0.85" stroke="#000" stroke-opacity="0.38" stroke-width="1.3"/><rect x="190.3" y="862" width="10.50" height="44.30" fill="#d89672" fill-opacity="0.85" stroke="#000" stroke-opacity="0.38" stroke-width="1.3"/><rect x="200.8" y="858.4" width="9.80" height="47.90" fill="#d89672" fill-opacity="0.85" stroke="#000" stroke-opacity="0.38" stroke-width="1.3"/><rect x="210.6" y="835.5" width="8.90" height="70.80" fill="#d89672" fill-opacity="0.85" stroke="#000" stroke-opacity="0.38" stroke-width="1.3"/><rect x="219.5" y="813.3" width="9.70" height="93.00" fill="#d89672" fill-opacity="0.85" stroke="#000" stroke-opacity="0.38" stroke-width="1.3"/><rect x="229.2" y="806.1" width="8.90" height="100.20" fill="#d89672" fill-opacity="0.85" stroke="#000" stroke-opacity="0.38" stroke-width="1.3"/><rect x="238.1" y="783.9" width="10.50" height="122.40" fill="#d89672" fill-opacity="0.85" stroke="#000" stroke-opacity="0.38" stroke-width="1.3"/><rect x="248.6" y="793.1" width="9.70" height="113.20" fill="#d89672" fill-opacity="0.85" stroke="#000" stroke-opacity="0.38" stroke-width="1.3"/><rect x="258.3" y="818.2" width="9.70" height="88.10" fill="#d89672" fill-opacity="0.85" stroke="#000" stroke-opacity="0.38" stroke-width="1.3"/><rect x="268" y="863.5" width="9.70" height="42.80" fill="#d89672" fill-opacity="0.85" stroke="#000" stroke-opacity="0.38" stroke-width="1.3"/><rect x="277.7" y="889.3" width="9.70" height="17.00" fill="#d89672" fill-opacity="0.85" stroke="#000" stroke-opacity="0.38" stroke-width="1.3"/><rect x="287.4" y="900" width="9.60" height="6.30" fill="#d89672" fill-opacity="0.85" stroke="#000" stroke-opacity="0.38" stroke-width="1.3"/>
<rect x="294" y="902" width="6.50" height="4.30" fill="#ecd77d" fill-opacity="1.0" stroke="#000" stroke-opacity="0.38" stroke-width="1.3"/><rect x="300.5" y="900" width="6.80" height="6.30" fill="#ecd77d" fill-opacity="1.0" stroke="#000" stroke-opacity="0.38" stroke-width="1.3"/><rect x="307.3" y="888.3" width="5.40" height="18.00" fill="#ecd77d" fill-opacity="1.0" stroke="#000" stroke-opacity="0.38" stroke-width="1.3"/><rect x="312.7" y="873.1" width="6.50" height="33.20" fill="#ecd77d" fill-opacity="1.0" stroke="#000" stroke-opacity="0.38" stroke-width="1.3"/><rect x="319.2" y="847.2" width="6.50" height="59.10" fill="#ecd77d" fill-opacity="1.0" stroke="#000" stroke-opacity="0.38" stroke-width="1.3"/><rect x="325.7" y="809.3" width="6.50" height="97.00" fill="#ecd77d" fill-opacity="1.0" stroke="#000" stroke-opacity="0.38" stroke-width="1.3"/><rect x="332.2" y="745.4" width="6.50" height="160.90" fill="#ecd77d" fill-opacity="1.0" stroke="#000" stroke-opacity="0.38" stroke-width="1.3"/><rect x="338.7" y="732" width="6.50" height="174.30" fill="#ecd77d" fill-opacity="1.0" stroke="#000" stroke-opacity="0.38" stroke-width="1.3"/><rect x="345.2" y="727" width="7.60" height="179.30" fill="#ecd77d" fill-opacity="1.0" stroke="#000" stroke-opacity="0.38" stroke-width="1.3"/><rect x="352.8" y="793" width="6.40" height="113.30" fill="#ecd77d" fill-opacity="1.0" stroke="#000" stroke-opacity="0.38" stroke-width="1.3"/><rect x="359.2" y="822.3" width="6.50" height="84.00" fill="#ecd77d" fill-opacity="1.0" stroke="#000" stroke-opacity="0.38" stroke-width="1.3"/><rect x="365.7" y="833.1" width="6.50" height="73.20" fill="#ecd77d" fill-opacity="1.0" stroke="#000" stroke-opacity="0.38" stroke-width="1.3"/><rect x="372.2" y="852.6" width="6.50" height="53.70" fill="#ecd77d" fill-opacity="1.0" stroke="#000" stroke-opacity="0.38" stroke-width="1.3"/><rect x="378.7" y="866.6" width="6.50" height="39.70" fill="#ecd77d" fill-opacity="1.0" stroke="#000" stroke-opacity="0.38" stroke-width="1.3"/><rect x="385.2" y="886.1" width="6.50" height="20.20" fill="#ecd77d" fill-opacity="1.0" stroke="#000" stroke-opacity="0.38" stroke-width="1.3"/><rect x="391.7" y="894.8" width="5.40" height="11.50" fill="#ecd77d" fill-opacity="1.0" stroke="#000" stroke-opacity="0.38" stroke-width="1.3"/>
<rect x="397.1" y="890.1" width="6.30" height="16.20" fill="#aa87b9" fill-opacity="1.0" stroke="#000" stroke-opacity="0.38" stroke-width="1.3"/><rect x="403.4" y="852.8" width="6.90" height="53.50" fill="#aa87b9" fill-opacity="1.0" stroke="#000" stroke-opacity="0.38" stroke-width="1.3"/><rect x="410.3" y="782.7" width="6.00" height="123.60" fill="#aa87b9" fill-opacity="1.0" stroke="#000" stroke-opacity="0.38" stroke-width="1.3"/><rect x="416.3" y="721.5" width="5.90" height="184.80" fill="#aa87b9" fill-opacity="1.0" stroke="#000" stroke-opacity="0.38" stroke-width="1.3"/><rect x="422.2" y="714" width="7.20" height="192.30" fill="#aa87b9" fill-opacity="1.0" stroke="#000" stroke-opacity="0.38" stroke-width="1.3"/><rect x="429.4" y="742.4" width="6.00" height="163.90" fill="#aa87b9" fill-opacity="1.0" stroke="#000" stroke-opacity="0.38" stroke-width="1.3"/><rect x="435.4" y="782.7" width="6.80" height="123.60" fill="#aa87b9" fill-opacity="1.0" stroke="#000" stroke-opacity="0.38" stroke-width="1.3"/><rect x="442.2" y="818.5" width="6.90" height="87.80" fill="#aa87b9" fill-opacity="1.0" stroke="#000" stroke-opacity="0.38" stroke-width="1.3"/><rect x="449.1" y="840.9" width="6.60" height="65.40" fill="#aa87b9" fill-opacity="1.0" stroke="#000" stroke-opacity="0.38" stroke-width="1.3"/><rect x="455.7" y="850.3" width="6.50" height="56.00" fill="#aa87b9" fill-opacity="1.0" stroke="#000" stroke-opacity="0.38" stroke-width="1.3"/><rect x="462.2" y="873" width="6.00" height="33.30" fill="#aa87b9" fill-opacity="1.0" stroke="#000" stroke-opacity="0.38" stroke-width="1.3"/><rect x="468.2" y="891.6" width="6.90" height="14.70" fill="#aa87b9" fill-opacity="1.0" stroke="#000" stroke-opacity="0.38" stroke-width="1.3"/>
<rect x="475.1" y="891.6" width="5.90" height="14.70" fill="#bad388" fill-opacity="1.0" stroke="#000" stroke-opacity="0.38" stroke-width="1.3"/><rect x="481" y="788.7" width="6.00" height="117.60" fill="#bad388" fill-opacity="1.0" stroke="#000" stroke-opacity="0.38" stroke-width="1.3"/><rect x="487" y="652.8" width="6.00" height="253.50" fill="#bad388" fill-opacity="1.0" stroke="#000" stroke-opacity="0.38" stroke-width="1.3"/><rect x="493" y="666.3" width="7.40" height="240.00" fill="#bad388" fill-opacity="1.0" stroke="#000" stroke-opacity="0.38" stroke-width="1.3"/><rect x="500.4" y="718.5" width="6.00" height="187.80" fill="#bad388" fill-opacity="1.0" stroke="#000" stroke-opacity="0.38" stroke-width="1.3"/><rect x="506.4" y="791.6" width="6.00" height="114.70" fill="#bad388" fill-opacity="1.0" stroke="#000" stroke-opacity="0.38" stroke-width="1.3"/><rect x="512.4" y="823" width="6.60" height="83.30" fill="#bad388" fill-opacity="1.0" stroke="#000" stroke-opacity="0.38" stroke-width="1.3"/><rect x="519" y="841" width="6.00" height="65.30" fill="#bad388" fill-opacity="1.0" stroke="#000" stroke-opacity="0.38" stroke-width="1.3"/><rect x="525" y="872.2" width="6.80" height="34.10" fill="#bad388" fill-opacity="1.0" stroke="#000" stroke-opacity="0.38" stroke-width="1.3"/><rect x="531.8" y="888.7" width="6.00" height="17.60" fill="#bad388" fill-opacity="1.0" stroke="#000" stroke-opacity="0.38" stroke-width="1.3"/><rect x="537.8" y="881.2" width="6.80" height="25.10" fill="#bad388" fill-opacity="1.0" stroke="#000" stroke-opacity="0.38" stroke-width="1.3"/><rect x="544.6" y="896.1" width="6.00" height="10.20" fill="#bad388" fill-opacity="1.0" stroke="#000" stroke-opacity="0.38" stroke-width="1.3"/><rect x="550.6" y="897.6" width="6.00" height="8.70" fill="#bad388" fill-opacity="1.0" stroke="#000" stroke-opacity="0.38" stroke-width="1.3"/><rect x="556.6" y="900.6" width="6.50" height="5.70" fill="#bad388" fill-opacity="1.0" stroke="#000" stroke-opacity="0.38" stroke-width="1.3"/>
<polyline points="153.00,799.30 154.60,782.06 156.20,764.20 157.80,746.21 159.40,728.64 161.00,712.09 162.59,697.18 164.19,684.50 165.79,674.58 167.39,667.84 168.99,664.58 170.59,664.94 172.19,668.92 173.79,676.32 175.39,686.84 176.99,700.00 178.58,715.29 180.18,732.09 181.78,749.79 183.38,767.80 184.98,785.57 186.58,802.64 188.18,818.63 189.78,833.26 191.38,846.36 192.97,857.85 194.57,867.73 196.17,876.05 197.77,882.93 199.37,888.52 200.97,892.97 202.57,896.46 204.17,899.14 205.77,901.17 207.37,902.68 208.97,903.78 210.56,904.58 212.16,905.14 213.76,905.53 215.36,905.80 216.96,905.97 218.56,906.09 220.16,906.17 221.76,906.22 223.36,906.25 224.95,906.27 226.55,906.28 228.15,906.29 229.75,906.29 231.35,906.30 232.95,906.30 234.55,906.30" fill="none" stroke="#3b45b5" stroke-width="2.8"/>
<polyline points="153.00,905.16 154.60,904.94 156.20,904.69 157.80,904.40 159.40,904.06 161.00,903.68 162.59,903.23 164.19,902.72 165.79,902.14 167.39,901.49 168.99,900.74 170.59,899.91 172.19,898.97 173.79,897.93 175.39,896.76 176.99,895.48 178.58,894.05 180.18,892.49 181.78,890.78 183.38,888.92 184.98,886.90 186.58,884.71 188.18,882.36 189.78,879.84 191.38,877.15 192.97,874.29 194.57,871.27 196.17,868.10 197.77,864.77 199.37,861.30 200.97,857.71 202.57,854.00 204.17,850.20 205.77,846.32 207.37,842.39 208.97,838.43 210.56,834.45 212.16,830.50 213.76,826.60 215.36,822.77 216.96,819.05 218.56,815.47 220.16,812.05 221.76,808.83 223.36,805.84 224.95,803.10 226.55,800.63 228.15,798.46 229.75,796.62 231.35,795.11 232.95,793.96 234.55,793.17 236.15,792.76 237.75,792.72 239.35,793.06 240.94,793.77 242.54,794.85 244.14,796.29 245.74,798.07 247.34,800.17 248.94,802.58 250.54,805.27 252.14,808.22 253.74,811.39 255.34,814.77 256.94,818.32 258.53,822.02 260.13,825.83 261.73,829.72 263.33,833.66 264.93,837.63 266.53,841.60 268.13,845.54 269.73,849.43 271.33,853.25 272.93,856.98 274.52,860.59 276.12,864.09 277.72,867.44 279.32,870.65 280.92,873.70 282.52,876.59 284.12,879.31 285.72,881.87 287.32,884.25 288.91,886.47 290.51,888.53 292.11,890.42 293.71,892.16 295.31,893.75 296.91,895.20 298.51,896.52 300.11,897.70 301.71,898.77 303.31,899.73 304.90,900.58 306.50,901.34 308.10,902.02 309.70,902.61 311.30,903.13 312.90,903.59 314.50,903.99 316.10,904.34 317.70,904.64 319.30,904.90 320.89,905.12 322.49,905.31 324.09,905.47 325.69,905.61 327.29,905.73 328.89,905.83 330.49,905.91 332.09,905.98 333.69,906.04 335.29,906.08 336.88,906.12 338.48,906.16 340.08,906.19 341.68,906.21 343.28,906.23 344.88,906.24 346.48,906.25 348.08,906.26 349.68,906.27 351.28,906.28 352.88,906.28 354.47,906.29 356.07,906.29 357.67,906.29 359.27,906.29 360.87,906.29 362.47,906.30 364.07,906.30 365.67,906.30 367.27,906.30 368.87,906.30 370.46,906.30 372.06,906.30 373.66,906.30 375.26,906.30" fill="none" stroke="#dd2a2a" stroke-width="2.8"/>
<polyline points="236.15,906.30 237.75,906.30 239.35,906.30 240.94,906.30 242.54,906.30 244.14,906.30 245.74,906.30 247.34,906.29 248.94,906.29 250.54,906.29 252.14,906.28 253.74,906.28 255.34,906.27 256.94,906.26 258.53,906.25 260.13,906.23 261.73,906.21 263.33,906.18 264.93,906.14 266.53,906.10 268.13,906.03 269.73,905.96 271.33,905.86 272.93,905.74 274.52,905.59 276.12,905.40 277.72,905.17 279.32,904.88 280.92,904.54 282.52,904.12 284.12,903.61 285.72,903.01 287.32,902.29 288.91,901.45 290.51,900.45 292.11,899.29 293.71,897.94 295.31,896.39 296.91,894.61 298.51,892.58 300.11,890.28 301.71,887.70 303.31,884.82 304.90,881.61 306.50,878.09 308.10,874.22 309.70,870.02 311.30,865.49 312.90,860.63 314.50,855.46 316.10,850.00 317.70,844.29 319.30,838.36 320.89,832.25 322.49,826.02 324.09,819.72 325.69,813.42 327.29,807.18 328.89,801.09 330.49,795.20 332.09,789.61 333.69,784.38 335.29,779.59 336.88,775.30 338.48,771.58 340.08,768.49 341.68,766.07 343.28,764.35 344.88,763.37 346.48,763.15 348.08,763.68 349.68,764.95 351.28,766.95 352.88,769.65 354.47,773.00 356.07,776.95 357.67,781.45 359.27,786.43 360.87,791.81 362.47,797.53 364.07,803.50 365.67,809.66 367.27,815.93 368.87,822.24 370.46,828.52 372.06,834.71 373.66,840.75 375.26,846.60 376.86,852.22 378.46,857.56 380.06,862.61 381.66,867.34 383.26,871.74 384.86,875.81 386.45,879.54 388.05,882.93 389.65,886.01 391.25,888.77 392.85,891.24 394.45,893.42 396.05,895.35 397.65,897.04 399.25,898.51 400.85,899.78 402.44,900.87 404.04,901.80 405.64,902.60 407.24,903.26 408.84,903.83 410.44,904.29 412.04,904.68 413.64,905.00 415.24,905.26 416.83,905.48 418.43,905.65 420.03,905.79 421.63,905.90 423.23,905.99 424.83,906.06 426.43,906.12 428.03,906.16 429.63,906.19 431.23,906.22 432.82,906.24 434.42,906.25 436.02,906.27 437.62,906.27 439.22,906.28 440.82,906.29 442.42,906.29 444.02,906.29 445.62,906.29 447.22,906.30 448.81,906.30 450.41,906.30 452.01,906.30 453.61,906.30 455.21,906.30" fill="none" stroke="#f0ad1e" stroke-width="2.8"/>
<polyline points="319.30,906.30 320.89,906.30 322.49,906.30 324.09,906.30 325.69,906.30 327.29,906.30 328.89,906.30 330.49,906.29 332.09,906.29 333.69,906.29 335.29,906.28 336.88,906.28 338.48,906.27 340.08,906.26 341.68,906.24 343.28,906.22 344.88,906.20 346.48,906.17 348.08,906.13 349.68,906.07 351.28,906.01 352.88,905.92 354.47,905.81 356.07,905.68 357.67,905.51 359.27,905.31 360.87,905.06 362.47,904.75 364.07,904.38 365.67,903.93 367.27,903.38 368.87,902.74 370.46,901.97 372.06,901.07 373.66,900.01 375.26,898.78 376.86,897.35 378.46,895.71 380.06,893.83 381.66,891.69 383.26,889.29 384.86,886.58 386.45,883.57 388.05,880.24 389.65,876.58 391.25,872.58 392.85,868.25 394.45,863.58 396.05,858.60 397.65,853.31 399.25,847.75 400.85,841.94 402.44,835.93 404.04,829.77 405.64,823.50 407.24,817.19 408.84,810.91 410.44,804.72 412.04,798.70 413.64,792.93 415.24,787.47 416.83,782.41 418.43,777.81 420.03,773.74 421.63,770.27 423.23,767.44 424.83,765.29 426.43,763.87 428.03,763.19 429.63,763.27 431.23,764.10 432.82,765.67 434.42,767.95 436.02,770.91 437.62,774.51 439.22,778.69 440.82,783.39 442.42,788.53 444.02,794.06 445.62,799.89 447.22,805.95 448.81,812.16 450.41,818.46 452.01,824.76 453.61,831.01 455.21,837.15 456.81,843.12 458.41,848.88 460.01,854.39 461.61,859.62 463.21,864.54 464.81,869.14 466.40,873.41 468.00,877.34 469.60,880.94 471.20,884.20 472.80,887.15 474.40,889.79 476.00,892.14 477.60,894.22 479.20,896.05 480.80,897.65 482.39,899.04 483.99,900.23 485.59,901.26 487.19,902.14 488.79,902.88 490.39,903.50 491.99,904.02 493.59,904.46 495.19,904.82 496.78,905.11 498.38,905.35 499.98,905.55 501.58,905.71 503.18,905.84 504.78,905.94 506.38,906.02 507.98,906.08 509.58,906.13 511.18,906.17 512.77,906.20 514.37,906.23 515.97,906.25 517.57,906.26 519.17,906.27 520.77,906.28 522.37,906.28 523.97,906.29 525.57,906.29 527.17,906.29 528.76,906.30 530.36,906.30 531.96,906.30 533.56,906.30 535.16,906.30 536.76,906.30 538.36,906.30" fill="none" stroke="#6a3cb4" stroke-width="2.8"/>
<polyline points="424.83,906.30 426.43,906.30 428.03,906.30 429.63,906.30 431.23,906.29 432.82,906.29 434.42,906.28 436.02,906.27 437.62,906.26 439.22,906.24 440.82,906.20 442.42,906.15 444.02,906.08 445.62,905.98 447.22,905.84 448.81,905.64 450.41,905.36 452.01,904.97 453.61,904.46 455.21,903.77 456.81,902.86 458.41,901.67 460.01,900.15 461.61,898.22 463.21,895.79 464.81,892.78 466.40,889.11 468.00,884.67 469.60,879.40 471.20,873.21 472.80,866.04 474.40,857.85 476.00,848.64 477.60,838.45 479.20,827.32 480.80,815.39 482.39,802.80 483.99,789.78 485.59,776.56 487.19,763.43 488.79,750.70 490.39,738.71 491.99,727.78 493.59,718.24 495.19,710.37 496.78,704.42 498.38,700.58 499.98,698.98 501.58,699.67 503.18,702.62 504.78,707.75 506.38,714.88 507.98,723.78 509.58,734.19 511.18,745.80 512.77,758.27 514.37,771.28 515.97,784.50 517.57,797.63 519.17,810.42 520.77,822.64 522.37,834.10 523.97,844.68 525.57,854.29 527.17,862.88 528.76,870.46 530.36,877.04 531.96,882.67 533.56,887.43 535.16,891.40 536.76,894.66 538.36,897.31 539.96,899.43 541.56,901.11 543.16,902.42 544.75,903.43 546.35,904.21 547.95,904.79 549.55,905.22 551.15,905.54 552.75,905.77 554.35,905.93 555.95,906.05 557.55,906.13 559.15,906.19 560.75,906.22 562.34,906.25 563.94,906.27 565.54,906.28 567.14,906.29 568.74,906.29" fill="none" stroke="#3f9a3a" stroke-width="2.8"/>
<rect x="153" y="535.8" width="415.6" height="370.5" fill="none" stroke="#000" stroke-width="2.5"/>
<line x1="153.0" y1="906.3" x2="153.0" y2="896.3" stroke="#000" stroke-width="2"/>
<line x1="153.0" y1="535.8" x2="153.0" y2="545.8" stroke="#000" stroke-width="2"/>
<g transform="translate(153.00,929.50)"><text x="-6.12" y="0" font-size="22" font-family="Liberation Sans, sans-serif" fill="#222" stroke="#222" stroke-width="0.3" stroke-linejoin="round" style="font-kerning:none;white-space:pre">0</text></g>
<line x1="216.96" y1="906.3" x2="216.96" y2="896.3" stroke="#000" stroke-width="2"/>
<line x1="216.96" y1="535.8" x2="216.96" y2="545.8" stroke="#000" stroke-width="2"/>
<g transform="translate(216.96,929.50)"><text x="-12.24" y="0" font-size="22" font-family="Liberation Sans, sans-serif" fill="#222" stroke="#222" stroke-width="0.3" stroke-linejoin="round" style="font-kerning:none;white-space:pre">20</text></g>
<line x1="280.92" y1="906.3" x2="280.92" y2="896.3" stroke="#000" stroke-width="2"/>
<line x1="280.92" y1="535.8" x2="280.92" y2="545.8" stroke="#000" stroke-width="2"/>
<g transform="translate(280.92,929.50)"><text x="-12.24" y="0" font-size="22" font-family="Liberation Sans, sans-serif" fill="#222" stroke="#222" stroke-width="0.3" stroke-linejoin="round" style="font-kerning:none;white-space:pre">40</text></g>
<line x1="344.88" y1="906.3" x2="344.88" y2="896.3" stroke="#000" stroke-width="2"/>
<line x1="344.88" y1="535.8" x2="344.88" y2="545.8" stroke="#000" stroke-width="2"/>
<g transform="translate(344.88,929.50)"><text x="-12.24" y="0" font-size="22" font-family="Liberation Sans, sans-serif" fill="#222" stroke="#222" stroke-width="0.3" stroke-linejoin="round" style="font-kerning:none;white-space:pre">60</text></g>
<line x1="408.84000000000003" y1="906.3" x2="408.84000000000003" y2="896.3" stroke="#000" stroke-width="2"/>
<line x1="408.84000000000003" y1="535.8" x2="408.84000000000003" y2="545.8" stroke="#000" stroke-width="2"/>
<g transform="translate(408.84,929.50)"><text x="-12.24" y="0" font-size="22" font-family="Liberation Sans, sans-serif" fill="#222" stroke="#222" stroke-width="0.3" stroke-linejoin="round" style="font-kerning:none;white-space:pre">80</text></g>
<line x1="472.8" y1="906.3" x2="472.8" y2="896.3" stroke="#000" stroke-width="2"/>
<line x1="472.8" y1="535.8" x2="472.8" y2="545.8" stroke="#000" stroke-width="2"/>
<g transform="translate(472.80,929.50)"><path d="M575,0 L575,1237 L257,1010 L257,1180 L600,1409 L756,1409 L756,0 Z" transform="translate(-18.35,0) scale(0.01074,-0.01074)" fill="#222" stroke="#222" stroke-width="27.9" stroke-linejoin="round"/><text x="-6.12" y="0" font-size="22" font-family="Liberation Sans, sans-serif" fill="#222" stroke="#222" stroke-width="0.3" stroke-linejoin="round" style="font-kerning:none;white-space:pre">00</text></g>
<line x1="536.76" y1="906.3" x2="536.76" y2="896.3" stroke="#000" stroke-width="2"/>
<line x1="536.76" y1="535.8" x2="536.76" y2="545.8" stroke="#000" stroke-width="2"/>
<g transform="translate(536.76,929.50)"><path d="M575,0 L575,1237 L257,1010 L257,1180 L600,1409 L756,1409 L756,0 Z" transform="translate(-18.35,0) scale(0.01074,-0.01074)" fill="#222" stroke="#222" stroke-width="27.9" stroke-linejoin="round"/><text x="-6.12" y="0" font-size="22" font-family="Liberation Sans, sans-serif" fill="#222" stroke="#222" stroke-width="0.3" stroke-linejoin="round" style="font-kerning:none;white-space:pre">20</text></g>
<line x1="153" y1="906.3" x2="163" y2="906.3" stroke="#000" stroke-width="2"/>
<line x1="568.6" y1="906.3" x2="558.6" y2="906.3" stroke="#000" stroke-width="2"/>
<g transform="translate(146.50,914.10)"><text x="-12.24" y="0" font-size="22" font-family="Liberation Sans, sans-serif" fill="#222" stroke="#222" stroke-width="0.3" stroke-linejoin="round" style="font-kerning:none;white-space:pre">0</text></g>
<line x1="153" y1="782.8499999999999" x2="163" y2="782.8499999999999" stroke="#000" stroke-width="2"/>
<line x1="568.6" y1="782.8499999999999" x2="558.6" y2="782.8499999999999" stroke="#000" stroke-width="2"/>
<g transform="translate(146.50,790.65)"><text x="-42.82" y="0" font-size="22" font-family="Liberation Sans, sans-serif" fill="#222" stroke="#222" stroke-width="0.3" stroke-linejoin="round" style="font-kerning:none;white-space:pre">0.05</text></g>
<line x1="153" y1="659.4" x2="163" y2="659.4" stroke="#000" stroke-width="2"/>
<line x1="568.6" y1="659.4" x2="558.6" y2="659.4" stroke="#000" stroke-width="2"/>
<g transform="translate(146.50,667.20)"><text x="-30.58" y="0" font-size="22" font-family="Liberation Sans, sans-serif" fill="#222" stroke="#222" stroke-width="0.3" stroke-linejoin="round" style="font-kerning:none;white-space:pre">0.</text><path d="M575,0 L575,1237 L257,1010 L257,1180 L600,1409 L756,1409 L756,0 Z" transform="translate(-12.24,0) scale(0.01074,-0.01074)" fill="#222" stroke="#222" stroke-width="27.9" stroke-linejoin="round"/></g>
<line x1="153" y1="535.95" x2="163" y2="535.95" stroke="#000" stroke-width="2"/>
<line x1="568.6" y1="535.95" x2="558.6" y2="535.95" stroke="#000" stroke-width="2"/>
<g transform="translate(146.50,543.75)"><text x="-42.82" y="0" font-size="22" font-family="Liberation Sans, sans-serif" fill="#222" stroke="#222" stroke-width="0.3" stroke-linejoin="round" style="font-kerning:none;white-space:pre">0.</text><path d="M575,0 L575,1237 L257,1010 L257,1180 L600,1409 L756,1409 L756,0 Z" transform="translate(-24.47,0) scale(0.01074,-0.01074)" fill="#222" stroke="#222" stroke-width="27.9" stroke-linejoin="round"/><text x="-12.24" y="0" font-size="22" font-family="Liberation Sans, sans-serif" fill="#222" stroke="#222" stroke-width="0.3" stroke-linejoin="round" style="font-kerning:none;white-space:pre">5</text></g>
<g transform="translate(361.00,956.00)"><text x="-70.34" y="0" font-size="26" font-family="Liberation Sans, sans-serif" fill="#222" style="font-kerning:none;white-space:pre">Current [μA]</text></g>
<g transform="translate(98.00,720.00) rotate(-90)"><text x="-26.00" y="0" font-size="26" font-family="Liberation Sans, sans-serif" fill="#222" style="font-kerning:none;white-space:pre">PDF</text></g>
<g transform="translate(160.30,578.60)"><text x="0.00" y="0" font-size="32.5" font-family="Liberation Sans, sans-serif" fill="#222" style="font-kerning:none;white-space:pre">(</text></g>
<g transform="translate(173.10,578.50) scale(1.08,1)"><text x="0.00" y="0" font-size="27" font-family="Liberation Sans, sans-serif" fill="#222" style="font-kerning:none;white-space:pre">a</text></g>
<g transform="translate(193.40,578.60)"><text x="0.00" y="0" font-size="32.5" font-family="Liberation Sans, sans-serif" fill="#222" style="font-kerning:none;white-space:pre">)</text></g>
<g transform="translate(396.00,588.70)"><text x="0.00" y="0" font-size="29" font-family="Liberation Sans, sans-serif" fill="#222" style="font-kerning:none;white-space:pre">V</text></g>
<g transform="translate(416.00,595.00)"><text x="0.00" y="0" font-size="19" font-family="Liberation Sans, sans-serif" fill="#222" style="font-kerning:none;white-space:pre">read</text></g>
<g transform="translate(462.00,588.70)"><text x="0.00" y="0" font-size="29" font-family="Liberation Sans, sans-serif" fill="#222" style="font-kerning:none;white-space:pre">= 0.5 V</text></g>
<g transform="translate(171.30,655.60)"><text x="0.00" y="0" font-size="31.5" font-family="Liberation Sans, sans-serif" fill="#3b45b5" stroke="#3b45b5" stroke-width="0.4" stroke-linejoin="round" style="font-kerning:none;white-space:pre">L</text></g><g transform="translate(188.80,661.90)"><path d="M575,0 L575,1237 L257,1010 L257,1180 L600,1409 L756,1409 L756,0 Z" transform="translate(0.00,0) scale(0.00977,-0.00977)" fill="#3b45b5" stroke="#3b45b5" stroke-width="30.7" stroke-linejoin="round"/></g>
<g transform="translate(226.50,763.90)"><text x="0.00" y="0" font-size="31.5" font-family="Liberation Sans, sans-serif" fill="#dd2a2a" stroke="#dd2a2a" stroke-width="0.4" stroke-linejoin="round" style="font-kerning:none;white-space:pre">L</text></g><g transform="translate(244.00,770.20)"><text x="0.00" y="0" font-size="20" font-family="Liberation Sans, sans-serif" fill="#dd2a2a" stroke="#dd2a2a" stroke-width="0.3" stroke-linejoin="round" style="font-kerning:none;white-space:pre">2</text></g>
<g transform="translate(331.30,718.60)"><text x="0.00" y="0" font-size="31.5" font-family="Liberation Sans, sans-serif" fill="#e8a93a" stroke="#e8a93a" stroke-width="0.4" stroke-linejoin="round" style="font-kerning:none;white-space:pre">L</text></g><g transform="translate(348.80,724.90)"><text x="0.00" y="0" font-size="20" font-family="Liberation Sans, sans-serif" fill="#e8a93a" stroke="#e8a93a" stroke-width="0.3" stroke-linejoin="round" style="font-kerning:none;white-space:pre">3</text></g>
<g transform="translate(410.90,701.50)"><text x="0.00" y="0" font-size="31.5" font-family="Liberation Sans, sans-serif" fill="#6a3cb4" stroke="#6a3cb4" stroke-width="0.4" stroke-linejoin="round" style="font-kerning:none;white-space:pre">L</text></g><g transform="translate(428.40,707.80)"><text x="0.00" y="0" font-size="20" font-family="Liberation Sans, sans-serif" fill="#6a3cb4" stroke="#6a3cb4" stroke-width="0.3" stroke-linejoin="round" style="font-kerning:none;white-space:pre">4</text></g>
<g transform="translate(481.60,639.40)"><text x="0.00" y="0" font-size="31.5" font-family="Liberation Sans, sans-serif" fill="#6c9440" stroke="#6c9440" stroke-width="0.4" stroke-linejoin="round" style="font-kerning:none;white-space:pre">L</text></g><g transform="translate(499.10,645.70)"><text x="0.00" y="0" font-size="20" font-family="Liberation Sans, sans-serif" fill="#6c9440" stroke="#6c9440" stroke-width="0.3" stroke-linejoin="round" style="font-kerning:none;white-space:pre">5</text></g>
<rect x="810" y="517.6" width="383.10" height="381.00" fill="#433b95"/>
<rect x="810.00" y="517.6" width="38.61" height="31.80" fill="#eec73d"/>
<rect x="1039.86" y="517.6" width="38.61" height="31.80" fill="#47439c"/>
<rect x="1078.17" y="517.6" width="38.61" height="31.80" fill="#4e51a4"/>
<rect x="848.31" y="549.1" width="38.61" height="39.10" fill="#f0e23a"/>
<rect x="924.93" y="549.1" width="38.61" height="39.10" fill="#47439c"/>
<rect x="1078.17" y="549.1" width="38.61" height="39.10" fill="#47439c"/>
<rect x="848.31" y="587.9" width="38.61" height="39.00" fill="#5862aa"/>
<rect x="886.62" y="587.9" width="38.61" height="39.00" fill="#e3b43f"/>
<rect x="963.24" y="587.9" width="38.61" height="39.00" fill="#47439c"/>
<rect x="1039.86" y="587.9" width="38.61" height="39.00" fill="#47439c"/>
<rect x="1078.17" y="587.9" width="38.61" height="39.00" fill="#47439c"/>
<rect x="848.31" y="626.6" width="38.61" height="39.10" fill="#47439c"/>
<rect x="924.93" y="626.6" width="38.61" height="39.10" fill="#dcbc42"/>
<rect x="1078.17" y="626.6" width="38.61" height="39.10" fill="#47439c"/>
<rect x="1116.48" y="626.6" width="38.61" height="39.10" fill="#5862aa"/>
<rect x="848.31" y="665.4" width="38.61" height="39.00" fill="#4a49a0"/>
<rect x="886.62" y="665.4" width="38.61" height="39.00" fill="#4e51a4"/>
<rect x="924.93" y="665.4" width="38.61" height="39.00" fill="#4a49a0"/>
<rect x="963.24" y="665.4" width="38.61" height="39.00" fill="#8cc366"/>
<rect x="1001.55" y="665.4" width="38.61" height="39.00" fill="#4a49a0"/>
<rect x="1039.86" y="665.4" width="38.61" height="39.00" fill="#4a49a0"/>
<rect x="1078.17" y="665.4" width="38.61" height="39.00" fill="#4e51a4"/>
<rect x="1116.48" y="665.4" width="38.61" height="39.00" fill="#47439c"/>
<rect x="1154.79" y="665.4" width="38.61" height="39.00" fill="#47439c"/>
<rect x="848.31" y="704.1" width="38.61" height="39.10" fill="#4a49a0"/>
<rect x="1001.55" y="704.1" width="38.61" height="39.10" fill="#f2d23b"/>
<rect x="848.31" y="742.9" width="38.61" height="39.10" fill="#4a49a0"/>
<rect x="1039.86" y="742.9" width="38.61" height="39.10" fill="#f1dd3a"/>
<rect x="1116.48" y="742.9" width="38.61" height="39.10" fill="#47439c"/>
<rect x="848.31" y="781.7" width="38.61" height="39.00" fill="#5258a6"/>
<rect x="886.62" y="781.7" width="38.61" height="39.00" fill="#47439c"/>
<rect x="963.24" y="781.7" width="38.61" height="39.00" fill="#47439c"/>
<rect x="1078.17" y="781.7" width="38.61" height="39.00" fill="#d8be3c"/>
<rect x="1116.48" y="781.7" width="38.61" height="39.00" fill="#47439c"/>
<rect x="848.31" y="820.4" width="38.61" height="39.10" fill="#47439c"/>
<rect x="924.93" y="820.4" width="38.61" height="39.10" fill="#4e51a4"/>
<rect x="1039.86" y="820.4" width="38.61" height="39.10" fill="#4e51a4"/>
<rect x="1078.17" y="820.4" width="38.61" height="39.10" fill="#47439c"/>
<rect x="1116.48" y="820.4" width="38.61" height="39.10" fill="#d5c23b"/>
<rect x="848.31" y="859.2" width="38.61" height="39.70" fill="#5258a6"/>
<rect x="963.24" y="859.2" width="38.61" height="39.70" fill="#47439c"/>
<rect x="1039.86" y="859.2" width="38.61" height="39.70" fill="#47439c"/>
<rect x="1078.17" y="859.2" width="38.61" height="39.70" fill="#47439c"/>
<rect x="1154.79" y="859.2" width="38.61" height="39.70" fill="#ebb944"/>
<rect x="810" y="517.6" width="383.10" height="381.00" fill="none" stroke="#111" stroke-width="2.2"/>
<line x1="829.15" y1="517.6" x2="829.15" y2="525.1" stroke="#111" stroke-width="2"/>
<line x1="829.15" y1="898.6" x2="829.15" y2="887.6" stroke="#111" stroke-width="2"/>
<g transform="translate(829.15,927.70) scale(0.9,1)"><path d="M575,0 L575,1237 L257,1010 L257,1180 L600,1409 L756,1409 L756,0 Z" transform="translate(-8.06,0) scale(0.01416,-0.01416)" fill="#1a1a1a"/></g>
<line x1="810" y1="532.40" x2="821" y2="532.40" stroke="#111" stroke-width="2"/>
<line x1="1193.10" y1="532.40" x2="1182.10" y2="532.40" stroke="#111" stroke-width="2"/>
<g transform="translate(805.50,542.90) scale(0.9,1)"><path d="M575,0 L575,1237 L257,1010 L257,1180 L600,1409 L756,1409 L756,0 Z" transform="translate(-16.13,0) scale(0.01416,-0.01416)" fill="#1a1a1a"/></g>
<line x1="867.47" y1="517.6" x2="867.47" y2="525.1" stroke="#111" stroke-width="2"/>
<line x1="867.47" y1="898.6" x2="867.47" y2="887.6" stroke="#111" stroke-width="2"/>
<g transform="translate(867.47,927.70) scale(0.9,1)"><text x="-8.06" y="0" font-size="29" font-family="Liberation Sans, sans-serif" fill="#1a1a1a" style="font-kerning:none;white-space:pre">2</text></g>
<line x1="810" y1="570.98" x2="821" y2="570.98" stroke="#111" stroke-width="2"/>
<line x1="1193.10" y1="570.98" x2="1182.10" y2="570.98" stroke="#111" stroke-width="2"/>
<g transform="translate(802.00,581.48) scale(0.9,1)"><text x="-16.13" y="0" font-size="29" font-family="Liberation Sans, sans-serif" fill="#1a1a1a" style="font-kerning:none;white-space:pre">2</text></g>
<line x1="905.77" y1="517.6" x2="905.77" y2="525.1" stroke="#111" stroke-width="2"/>
<line x1="905.77" y1="898.6" x2="905.77" y2="887.6" stroke="#111" stroke-width="2"/>
<g transform="translate(905.77,927.70) scale(0.9,1)"><text x="-8.06" y="0" font-size="29" font-family="Liberation Sans, sans-serif" fill="#1a1a1a" style="font-kerning:none;white-space:pre">3</text></g>
<line x1="810" y1="609.56" x2="821" y2="609.56" stroke="#111" stroke-width="2"/>
<line x1="1193.10" y1="609.56" x2="1182.10" y2="609.56" stroke="#111" stroke-width="2"/>
<g transform="translate(802.00,620.06) scale(0.9,1)"><text x="-16.13" y="0" font-size="29" font-family="Liberation Sans, sans-serif" fill="#1a1a1a" style="font-kerning:none;white-space:pre">3</text></g>
<line x1="944.09" y1="517.6" x2="944.09" y2="525.1" stroke="#111" stroke-width="2"/>
<line x1="944.09" y1="898.6" x2="944.09" y2="887.6" stroke="#111" stroke-width="2"/>
<g transform="translate(944.09,927.70) scale(0.9,1)"><text x="-8.06" y="0" font-size="29" font-family="Liberation Sans, sans-serif" fill="#1a1a1a" style="font-kerning:none;white-space:pre">4</text></g>
<line x1="810" y1="648.14" x2="821" y2="648.14" stroke="#111" stroke-width="2"/>
<line x1="1193.10" y1="648.14" x2="1182.10" y2="648.14" stroke="#111" stroke-width="2"/>
<g transform="translate(802.00,658.64) scale(0.9,1)"><text x="-16.13" y="0" font-size="29" font-family="Liberation Sans, sans-serif" fill="#1a1a1a" style="font-kerning:none;white-space:pre">4</text></g>
<line x1="982.39" y1="517.6" x2="982.39" y2="525.1" stroke="#111" stroke-width="2"/>
<line x1="982.39" y1="898.6" x2="982.39" y2="887.6" stroke="#111" stroke-width="2"/>
<g transform="translate(982.39,927.70) scale(0.9,1)"><text x="-8.06" y="0" font-size="29" font-family="Liberation Sans, sans-serif" fill="#1a1a1a" style="font-kerning:none;white-space:pre">5</text></g>
<line x1="810" y1="686.72" x2="821" y2="686.72" stroke="#111" stroke-width="2"/>
<line x1="1193.10" y1="686.72" x2="1182.10" y2="686.72" stroke="#111" stroke-width="2"/>
<g transform="translate(802.00,697.22) scale(0.9,1)"><text x="-16.13" y="0" font-size="29" font-family="Liberation Sans, sans-serif" fill="#1a1a1a" style="font-kerning:none;white-space:pre">5</text></g>
<line x1="1020.71" y1="517.6" x2="1020.71" y2="525.1" stroke="#111" stroke-width="2"/>
<line x1="1020.71" y1="898.6" x2="1020.71" y2="887.6" stroke="#111" stroke-width="2"/>
<g transform="translate(1020.71,927.70) scale(0.9,1)"><text x="-8.06" y="0" font-size="29" font-family="Liberation Sans, sans-serif" fill="#1a1a1a" style="font-kerning:none;white-space:pre">6</text></g>
<line x1="810" y1="725.30" x2="821" y2="725.30" stroke="#111" stroke-width="2"/>
<line x1="1193.10" y1="725.30" x2="1182.10" y2="725.30" stroke="#111" stroke-width="2"/>
<g transform="translate(802.00,735.80) scale(0.9,1)"><text x="-16.13" y="0" font-size="29" font-family="Liberation Sans, sans-serif" fill="#1a1a1a" style="font-kerning:none;white-space:pre">6</text></g>
<line x1="1059.02" y1="517.6" x2="1059.02" y2="525.1" stroke="#111" stroke-width="2"/>
<line x1="1059.02" y1="898.6" x2="1059.02" y2="887.6" stroke="#111" stroke-width="2"/>
<g transform="translate(1059.02,927.70) scale(0.9,1)"><text x="-8.06" y="0" font-size="29" font-family="Liberation Sans, sans-serif" fill="#1a1a1a" style="font-kerning:none;white-space:pre">7</text></g>
<line x1="810" y1="763.88" x2="821" y2="763.88" stroke="#111" stroke-width="2"/>
<line x1="1193.10" y1="763.88" x2="1182.10" y2="763.88" stroke="#111" stroke-width="2"/>
<g transform="translate(802.00,774.38) scale(0.9,1)"><text x="-16.13" y="0" font-size="29" font-family="Liberation Sans, sans-serif" fill="#1a1a1a" style="font-kerning:none;white-space:pre">7</text></g>
<line x1="1097.33" y1="517.6" x2="1097.33" y2="525.1" stroke="#111" stroke-width="2"/>
<line x1="1097.33" y1="898.6" x2="1097.33" y2="887.6" stroke="#111" stroke-width="2"/>
<g transform="translate(1097.33,927.70) scale(0.9,1)"><text x="-8.06" y="0" font-size="29" font-family="Liberation Sans, sans-serif" fill="#1a1a1a" style="font-kerning:none;white-space:pre">8</text></g>
<line x1="810" y1="802.46" x2="821" y2="802.46" stroke="#111" stroke-width="2"/>
<line x1="1193.10" y1="802.46" x2="1182.10" y2="802.46" stroke="#111" stroke-width="2"/>
<g transform="translate(802.00,812.96) scale(0.9,1)"><text x="-16.13" y="0" font-size="29" font-family="Liberation Sans, sans-serif" fill="#1a1a1a" style="font-kerning:none;white-space:pre">8</text></g>
<line x1="1135.63" y1="517.6" x2="1135.63" y2="525.1" stroke="#111" stroke-width="2"/>
<line x1="1135.63" y1="898.6" x2="1135.63" y2="887.6" stroke="#111" stroke-width="2"/>
<g transform="translate(1135.63,927.70) scale(0.9,1)"><text x="-8.06" y="0" font-size="29" font-family="Liberation Sans, sans-serif" fill="#1a1a1a" style="font-kerning:none;white-space:pre">9</text></g>
<line x1="810" y1="841.04" x2="821" y2="841.04" stroke="#111" stroke-width="2"/>
<line x1="1193.10" y1="841.04" x2="1182.10" y2="841.04" stroke="#111" stroke-width="2"/>
<g transform="translate(802.00,851.54) scale(0.9,1)"><text x="-16.13" y="0" font-size="29" font-family="Liberation Sans, sans-serif" fill="#1a1a1a" style="font-kerning:none;white-space:pre">9</text></g>
<line x1="1173.95" y1="517.6" x2="1173.95" y2="525.1" stroke="#111" stroke-width="2"/>
<line x1="1173.95" y1="898.6" x2="1173.95" y2="887.6" stroke="#111" stroke-width="2"/>
<g transform="translate(1173.95,927.70) scale(0.9,1)"><text x="-8.06" y="0" font-size="29" font-family="Liberation Sans, sans-serif" fill="#1a1a1a" style="font-kerning:none;white-space:pre">0</text></g>
<line x1="810" y1="879.62" x2="821" y2="879.62" stroke="#111" stroke-width="2"/>
<line x1="1193.10" y1="879.62" x2="1182.10" y2="879.62" stroke="#111" stroke-width="2"/>
<g transform="translate(802.00,890.12) scale(0.9,1)"><text x="-16.13" y="0" font-size="29" font-family="Liberation Sans, sans-serif" fill="#1a1a1a" style="font-kerning:none;white-space:pre">0</text></g>
<g transform="translate(1001.00,960.00) scale(0.885,1)"><text x="-48.03" y="0" font-size="32" font-family="Liberation Sans, sans-serif" fill="#1a1a1a" style="font-kerning:none;white-space:pre">Output</text></g>
<g transform="translate(772.00,706.00) rotate(-90) scale(0.885,1)"><text x="-35.59" y="0" font-size="32" font-family="Liberation Sans, sans-serif" fill="#1a1a1a" style="font-kerning:none;white-space:pre">Input</text></g>
</svg></body></html>
